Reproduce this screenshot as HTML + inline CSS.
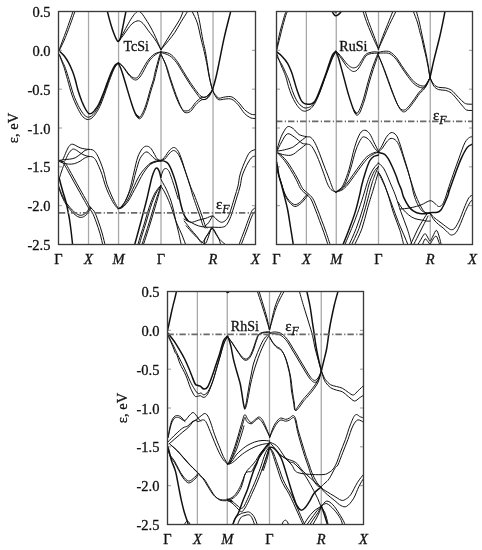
<!DOCTYPE html><html><head><meta charset="utf-8"><style>html,body{margin:0;padding:0;background:#fff;}svg{display:block;filter:blur(0.3px);}text{font-family:"Liberation Serif",serif;fill:#111;stroke:#111;stroke-width:0.3px;}</style></head><body>
<svg width="482" height="550" viewBox="0 0 482 550">
<defs><clipPath id="c0"><rect x="58.5" y="11.5" width="197.0" height="233.0"/></clipPath></defs>
<line x1="88.53" y1="11.5" x2="88.53" y2="244.5" stroke="#a8a8a8" stroke-width="1.3"/>
<line x1="118.56" y1="11.5" x2="118.56" y2="244.5" stroke="#a8a8a8" stroke-width="1.3"/>
<line x1="161.02" y1="11.5" x2="161.02" y2="244.5" stroke="#a8a8a8" stroke-width="1.3"/>
<line x1="213.03" y1="11.5" x2="213.03" y2="244.5" stroke="#a8a8a8" stroke-width="1.3"/>
<text x="50.5" y="17.10" font-size="14.5" text-anchor="end">0.5</text>
<line x1="58.5" y1="50.33" x2="62.0" y2="50.33" stroke="#999" stroke-width="1"/>
<line x1="252.0" y1="50.33" x2="255.5" y2="50.33" stroke="#999" stroke-width="1"/>
<text x="50.5" y="55.93" font-size="14.5" text-anchor="end">0.0</text>
<line x1="58.5" y1="89.17" x2="62.0" y2="89.17" stroke="#999" stroke-width="1"/>
<line x1="252.0" y1="89.17" x2="255.5" y2="89.17" stroke="#999" stroke-width="1"/>
<text x="50.5" y="94.77" font-size="14.5" text-anchor="end">-0.5</text>
<line x1="58.5" y1="128.00" x2="62.0" y2="128.00" stroke="#999" stroke-width="1"/>
<line x1="252.0" y1="128.00" x2="255.5" y2="128.00" stroke="#999" stroke-width="1"/>
<text x="50.5" y="133.60" font-size="14.5" text-anchor="end">-1.0</text>
<line x1="58.5" y1="166.83" x2="62.0" y2="166.83" stroke="#999" stroke-width="1"/>
<line x1="252.0" y1="166.83" x2="255.5" y2="166.83" stroke="#999" stroke-width="1"/>
<text x="50.5" y="172.43" font-size="14.5" text-anchor="end">-1.5</text>
<line x1="58.5" y1="205.67" x2="62.0" y2="205.67" stroke="#999" stroke-width="1"/>
<line x1="252.0" y1="205.67" x2="255.5" y2="205.67" stroke="#999" stroke-width="1"/>
<text x="50.5" y="211.27" font-size="14.5" text-anchor="end">-2.0</text>
<text x="50.5" y="250.10" font-size="14.5" text-anchor="end">-2.5</text>
<g clip-path="url(#c0)" fill="none" stroke="#111" stroke-width="1.15" stroke-linejoin="round" stroke-linecap="round">
<path d="M59.0,50.5 C59.6,48.8 61.5,43.5 62.8,40.0 C64.1,36.5 64.9,34.5 66.6,29.8 C68.3,25.1 71.8,15.0 73.0,11.5 C74.2,8.0 73.7,9.4 73.8,9.0" stroke-width="1.00"/>
<path d="M59.3,50.5 C60.1,48.8 62.8,43.5 64.3,40.0 C65.8,36.5 66.5,34.5 68.3,29.8 C70.1,25.1 73.7,15.0 74.9,11.5 C76.2,8.0 75.7,9.4 75.8,9.0" stroke-width="1.00"/>
<path d="M60.1,51.8 C60.8,52.5 62.9,54.2 64.3,56.0 C65.7,57.8 67.0,59.8 68.4,62.4 C69.8,65.0 71.4,68.5 72.6,71.5 C73.8,74.5 74.6,77.2 75.5,80.5 C76.4,83.8 77.1,87.5 78.2,91.0 C79.3,94.5 80.7,98.4 81.9,101.5 C83.2,104.6 84.6,107.5 85.7,109.5 C86.8,111.5 87.6,112.7 88.6,113.3 C89.6,113.9 90.5,113.8 91.5,113.3 C92.5,112.8 93.3,112.1 94.5,110.6 C95.7,109.0 97.4,106.8 98.9,104.0 C100.4,101.2 101.8,97.2 103.3,93.5 C104.8,89.8 106.1,85.6 107.6,81.8 C109.0,78.0 110.7,73.6 112.0,70.8 C113.3,68.0 114.1,66.2 115.2,64.9 C116.3,63.6 117.9,63.2 118.4,62.9" stroke-width="1.50"/>
<path d="M59.3,54.5 C59.7,55.7 61.0,59.3 61.8,61.6 C62.6,63.9 63.3,65.2 64.3,68.2 C65.2,71.2 66.2,75.0 67.5,79.5 C68.8,84.0 70.4,90.5 72.0,95.0 C73.6,99.5 75.2,103.3 76.9,106.7 C78.6,110.1 80.4,113.6 81.9,115.6 C83.4,117.6 84.6,118.2 85.7,118.9 C86.8,119.6 87.4,119.7 88.4,119.5 C89.4,119.3 90.7,119.0 91.9,118.0 C93.1,117.0 94.3,115.7 95.6,113.8 C96.9,111.9 98.4,109.5 99.8,106.5 C101.2,103.5 102.8,99.3 104.2,95.5 C105.6,91.7 107.0,87.4 108.4,83.5 C109.8,79.6 111.4,75.2 112.6,72.3 C113.8,69.4 114.7,67.5 115.7,66.0 C116.7,64.5 118.0,63.8 118.4,63.4" stroke-width="1.00"/>
<path d="M59.5,55.0 C60.0,56.1 61.6,59.5 62.6,61.8 C63.6,64.0 64.4,65.5 65.5,68.5 C66.6,71.5 67.7,75.2 69.0,79.5 C70.3,83.8 72.0,90.2 73.5,94.5 C75.0,98.8 76.6,102.3 78.2,105.5 C79.8,108.7 81.7,111.7 83.0,113.5 C84.3,115.3 85.3,115.9 86.2,116.5 C87.1,117.1 87.6,117.3 88.5,117.2 C89.4,117.1 90.5,116.8 91.5,116.0 C92.5,115.2 93.5,114.3 94.8,112.6 C96.0,110.9 97.5,108.8 99.0,105.8 C100.5,102.8 102.0,98.6 103.5,94.8 C105.0,91.0 106.3,86.8 107.8,83.0 C109.2,79.2 110.9,74.9 112.2,72.0 C113.5,69.1 114.4,67.2 115.4,65.8 C116.4,64.3 117.9,63.7 118.4,63.3" stroke-width="1.00"/>
<path d="M106.8,5.0 C106.9,6.1 106.7,8.2 107.4,11.4 C108.1,14.6 109.7,20.4 110.8,24.2 C111.9,28.0 113.2,31.7 114.2,34.3 C115.2,36.9 115.9,38.4 116.6,39.6 C117.3,40.8 117.7,41.7 118.3,41.6 C118.9,41.5 119.5,40.8 120.2,38.8 C120.9,36.8 121.6,32.8 122.3,29.5 C123.0,26.2 123.8,22.0 124.4,19.0 C125.0,16.0 125.6,13.6 125.9,11.4 C126.2,9.2 126.4,6.9 126.5,6.0" stroke-width="1.50"/>
<path d="M118.3,41.6 C118.9,40.6 120.5,38.1 122.0,35.5 C123.5,32.9 125.3,29.0 127.0,26.0 C128.7,23.0 130.5,19.7 132.0,17.5 C133.5,15.3 134.9,13.7 136.0,12.6 C137.1,11.5 137.6,11.2 138.4,11.2 C139.2,11.2 140.1,11.7 141.0,12.6 C141.9,13.5 143.0,15.0 144.0,16.5 C145.0,18.0 146.1,19.8 147.2,21.5 C148.3,23.2 149.4,25.0 150.5,27.0 C151.6,29.0 152.7,31.2 153.9,33.6 C155.1,36.0 156.3,38.8 157.5,41.5 C158.7,44.2 160.3,48.3 160.9,49.7" stroke-width="1.00"/>
<path d="M118.3,41.6 C119.1,40.6 121.3,38.0 123.0,35.8 C124.7,33.6 126.6,30.3 128.3,28.2 C130.0,26.1 131.3,24.2 133.0,23.0 C134.7,21.8 136.7,20.7 138.4,20.8 C140.1,20.9 141.3,21.8 143.0,23.5 C144.7,25.2 146.9,28.8 148.5,30.9 C150.1,33.0 151.2,34.2 152.5,36.0 C153.8,37.8 155.2,39.6 156.6,41.9 C158.0,44.2 160.2,48.4 160.9,49.7" stroke-width="1.00"/>
<path d="M118.4,63.1 C118.8,63.2 119.7,63.2 120.7,64.0 C121.7,64.8 123.2,66.6 124.4,68.1 C125.6,69.6 126.8,71.6 128.0,73.1 C129.2,74.5 130.5,76.0 131.7,76.8 C132.8,77.6 133.8,78.1 134.9,78.1 C136.0,78.1 137.0,78.0 138.1,76.8 C139.2,75.6 140.5,72.9 141.7,70.8 C142.9,68.7 144.2,66.4 145.4,64.4 C146.6,62.4 147.8,60.5 149.0,59.0 C150.2,57.5 151.5,56.3 152.7,55.3 C153.9,54.3 155.2,53.5 156.4,53.0 C157.6,52.5 158.9,52.4 159.6,52.1 C160.3,51.9 160.6,51.6 160.8,51.5" stroke-width="1.00"/>
<path d="M118.4,63.1 C118.8,63.3 119.7,63.5 120.7,64.5 C121.7,65.5 123.2,67.2 124.4,68.8 C125.6,70.4 126.8,72.5 128.0,74.0 C129.2,75.5 130.5,77.0 131.7,78.0 C132.9,79.0 134.2,80.0 135.4,80.0 C136.6,80.0 137.8,79.3 139.0,78.1 C140.2,76.9 141.5,74.8 142.7,72.7 C143.9,70.7 145.1,67.9 146.3,65.8 C147.5,63.7 148.8,61.5 150.0,59.9 C151.2,58.3 152.4,57.3 153.6,56.2 C154.8,55.1 156.1,54.2 157.3,53.5 C158.5,52.8 160.2,52.2 160.8,52.0" stroke-width="1.00"/>
<path d="M118.4,63.1 C118.8,63.9 119.9,66.2 120.6,68.0 C121.3,69.8 121.6,70.4 122.7,74.0 C123.8,77.6 125.8,84.3 127.3,89.4 C128.8,94.5 130.7,100.8 132.0,104.8 C133.3,108.8 134.2,111.5 135.4,113.6 C136.6,115.7 138.3,116.6 138.9,117.2" stroke-width="1.50"/>
<path d="M135.4,113.6 C136.0,114.2 137.8,117.3 138.9,117.4 C140.0,117.5 140.8,116.2 142.0,114.1 C143.2,112.0 144.5,108.9 145.9,104.8 C147.3,100.7 149.1,93.6 150.3,89.4 C151.6,85.2 152.6,82.7 153.4,79.8 C154.2,76.9 154.2,75.7 155.1,72.0 C156.0,68.3 158.1,60.8 159.0,57.5 C159.9,54.2 160.5,53.2 160.8,52.3" stroke-width="1.00"/>
<path d="M135.8,115.2 C136.4,115.8 138.0,118.8 139.1,118.9 C140.2,119.0 141.3,117.8 142.6,115.6 C143.8,113.4 145.2,110.3 146.6,106.0 C148.0,101.7 149.9,94.3 151.2,90.0 C152.5,85.7 153.5,82.9 154.3,80.0 C155.1,77.1 155.2,76.2 156.1,72.5 C157.0,68.8 158.8,61.2 159.7,58.0 C160.5,54.8 160.9,53.8 161.2,53.0" stroke-width="1.00"/>
<path d="M160.9,49.7 C162.0,47.9 165.3,42.5 167.4,39.1 C169.5,35.7 171.6,32.5 173.7,29.2 C175.8,25.9 178.3,22.1 179.9,19.2 C181.5,16.3 182.3,13.4 183.0,11.7 C183.7,10.0 183.8,9.4 184.0,9.0" stroke-width="1.00"/>
<path d="M160.9,49.7 C162.2,48.2 166.4,43.3 168.7,40.4 C171.0,37.5 172.8,35.4 174.9,32.3 C177.0,29.2 179.0,25.1 181.1,21.7 C183.2,18.3 186.2,13.8 187.4,11.7 C188.6,9.6 188.3,9.4 188.5,9.0" stroke-width="1.00"/>
<path d="M191.5,8.0 C191.6,8.6 191.3,9.2 192.3,11.7 C193.3,14.2 195.8,18.3 197.3,22.9 C198.8,27.5 199.9,34.3 201.1,39.1 C202.2,43.9 203.2,47.2 204.2,51.6 C205.2,56.0 206.4,61.6 207.2,65.8 C208.0,70.0 208.3,73.0 209.2,77.0 C210.1,81.0 211.4,86.8 212.5,89.9 C213.6,93.0 214.9,94.1 216.0,95.5 C217.1,96.9 217.5,98.0 219.1,98.2 C220.7,98.4 223.3,97.1 225.4,96.9 C227.5,96.7 229.7,96.1 231.8,96.9 C233.9,97.8 236.1,99.9 238.2,102.0 C240.3,104.1 242.4,107.6 244.5,109.6 C246.6,111.6 249.0,113.2 250.9,114.1 C252.8,114.9 255.2,114.6 256.0,114.7" stroke-width="1.00"/>
<path d="M196.5,8.0 C196.6,8.6 196.8,9.2 197.3,11.7 C197.9,14.2 198.9,18.1 199.8,22.9 C200.7,27.7 202.0,35.6 202.9,40.4 C203.8,45.2 204.6,47.3 205.4,51.6 C206.2,55.9 207.0,61.7 207.7,66.0 C208.4,70.3 208.8,73.5 209.6,77.5 C210.4,81.5 211.4,86.7 212.5,89.9 C213.6,93.2 214.9,95.3 216.0,97.0 C217.1,98.7 217.5,99.5 219.1,99.8 C220.7,100.1 223.3,99.1 225.4,99.0 C227.5,98.9 229.7,98.3 231.8,99.3 C233.9,100.3 236.1,102.4 238.2,104.8 C240.3,107.2 242.4,111.2 244.5,113.4 C246.6,115.6 249.0,117.1 250.9,117.9 C252.8,118.8 255.2,118.4 256.0,118.5" stroke-width="1.00"/>
<path d="M231.2,8.0 C231.1,8.6 231.9,6.4 230.7,11.4 C229.5,16.4 226.2,28.7 224.1,38.1 C222.0,47.5 219.4,61.4 218.0,68.0 C216.6,74.7 216.7,74.3 215.8,78.0 C214.9,81.7 213.1,87.9 212.5,89.9" stroke-width="1.50"/>
<path d="M160.8,51.8 C162.3,52.1 167.0,52.3 169.6,53.7 C172.2,55.1 174.2,57.5 176.5,60.4 C178.8,63.3 181.0,67.7 183.3,71.3 C185.6,74.9 187.8,78.8 190.1,82.2 C192.4,85.6 195.1,89.4 196.9,91.7 C198.7,94.0 199.6,95.4 201.0,96.3 C202.4,97.2 203.7,97.5 205.1,97.2 C206.5,97.0 208.0,96.0 209.2,94.8 C210.4,93.6 211.9,90.7 212.5,89.9" stroke-width="1.00"/>
<path d="M160.8,52.5 C162.3,53.0 167.0,54.0 169.6,55.7 C172.2,57.4 174.2,59.6 176.5,62.6 C178.8,65.6 181.0,69.9 183.3,73.5 C185.6,77.1 187.8,81.0 190.1,84.4 C192.4,87.8 195.1,91.5 196.9,93.9 C198.7,96.3 199.6,97.8 201.0,98.7 C202.4,99.6 203.7,99.8 205.1,99.4 C206.5,99.0 208.0,98.0 209.2,96.4 C210.4,94.8 211.9,91.0 212.5,89.9" stroke-width="1.00"/>
<path d="M161.2,54.5 C161.9,56.2 164.1,60.6 165.5,64.5 C166.9,68.4 168.0,73.1 169.6,78.1 C171.2,83.1 173.3,89.7 175.1,94.5 C176.9,99.3 178.9,104.0 180.5,106.7 C182.1,109.4 183.0,110.3 184.6,110.8 C186.2,111.3 188.3,110.9 190.1,109.5 C191.9,108.1 193.7,104.5 195.5,102.6 C197.3,100.7 199.2,98.9 201.0,97.9 C202.8,96.9 204.6,97.8 206.5,96.5 C208.4,95.2 211.5,91.0 212.5,89.9" stroke-width="1.00"/>
<path d="M161.5,55.5 C162.3,57.2 164.8,61.6 166.3,65.5 C167.8,69.4 168.9,74.1 170.6,79.1 C172.3,84.1 174.5,90.7 176.3,95.5 C178.1,100.3 180.1,105.2 181.5,108.0 C182.9,110.8 183.5,111.9 185.0,112.5 C186.5,113.1 188.7,112.7 190.5,111.4 C192.3,110.1 194.1,106.5 195.9,104.6 C197.7,102.7 199.6,101.0 201.4,100.0 C203.2,99.0 205.0,100.2 206.8,98.5 C208.7,96.8 211.6,91.3 212.5,89.9" stroke-width="1.00"/>
<path d="M59.5,160.5 C59.9,160.5 61.2,161.1 62.0,160.5 C62.8,159.9 63.2,158.7 64.0,157.0 C64.8,155.3 65.9,152.2 66.8,150.4 C67.7,148.6 68.4,146.9 69.3,145.9 C70.2,144.9 71.1,144.2 72.2,144.2 C73.3,144.1 74.6,145.0 75.9,145.6 C77.2,146.2 78.7,147.3 80.1,147.8 C81.5,148.3 82.8,148.5 84.2,148.8 C85.6,149.1 87.4,149.2 88.7,149.4 C90.0,149.6 91.1,149.2 92.2,149.7 C93.3,150.2 94.4,150.9 95.5,152.3 C96.6,153.7 97.6,155.7 98.7,158.0 C99.8,160.3 101.0,163.5 102.0,166.2 C103.0,168.9 103.7,171.4 104.5,174.4 C105.3,177.4 105.8,180.9 106.9,184.2 C108.0,187.5 109.7,191.2 110.9,194.1 C112.1,197.0 113.1,199.1 114.3,201.5 C115.5,203.9 117.5,207.2 118.2,208.4" stroke-width="1.00"/>
<path d="M60.0,161.0 C60.5,161.1 62.1,161.6 63.0,161.5 C63.9,161.4 64.2,161.8 65.1,160.5 C66.0,159.2 67.2,155.7 68.4,153.8 C69.7,151.9 71.2,149.8 72.6,149.2 C74.0,148.6 75.3,149.7 76.7,150.4 C78.1,151.1 79.5,152.6 80.9,153.4 C82.3,154.2 83.7,154.9 85.0,155.4 C86.3,155.9 87.5,156.2 88.7,156.4 C89.9,156.6 91.1,156.3 92.2,156.8 C93.3,157.3 94.4,158.0 95.5,159.6 C96.6,161.2 97.6,163.7 98.7,166.2 C99.8,168.7 101.0,171.4 102.0,174.4 C103.0,177.4 103.8,181.1 104.9,184.2 C106.0,187.3 107.1,190.3 108.4,193.2 C109.7,196.1 111.3,199.3 112.6,201.5 C113.8,203.7 115.0,205.3 115.9,206.5 C116.8,207.7 117.8,208.2 118.2,208.6" stroke-width="1.00"/>
<path d="M59.3,160.4 C60.1,160.3 62.6,159.8 64.3,159.6 C66.0,159.4 67.5,159.5 69.3,159.2 C71.1,158.9 73.2,158.8 75.1,157.9 C77.0,157.0 79.2,155.1 80.9,153.8 C82.6,152.6 83.7,151.1 85.0,150.4 C86.3,149.7 88.1,149.6 88.7,149.4" stroke-width="1.00"/>
<path d="M59.5,161.5 C60.0,161.7 61.1,162.5 62.6,162.9 C64.1,163.3 66.5,164.0 68.4,164.1 C70.4,164.2 72.3,164.2 74.3,163.7 C76.2,163.2 78.4,162.1 80.1,161.2 C81.8,160.3 82.8,159.1 84.2,158.3 C85.6,157.5 88.0,156.7 88.7,156.4" stroke-width="1.00"/>
<path d="M61.5,161.5 C62.0,162.0 62.9,162.5 64.2,164.4 C65.5,166.3 67.4,170.0 69.1,173.1 C70.8,176.2 72.7,179.6 74.5,182.9 C76.3,186.2 78.2,189.4 80.0,192.7 C81.8,196.0 84.1,200.0 85.5,202.5 C86.9,205.0 87.3,205.9 88.4,207.6 C89.5,209.3 91.0,210.1 92.3,212.5 C93.6,214.9 94.8,218.3 96.1,221.8 C97.4,225.3 98.8,229.5 100.0,233.5 C101.2,237.5 102.5,243.9 103.0,246.0" stroke-width="1.00"/>
<path d="M63.6,161.5 C64.0,162.0 65.0,162.6 66.3,164.6 C67.6,166.6 69.5,170.2 71.2,173.3 C72.9,176.4 74.8,179.8 76.6,183.1 C78.4,186.4 80.3,189.6 82.1,192.9 C83.9,196.2 86.3,200.3 87.6,202.7 C88.9,205.0 88.9,205.5 90.0,207.0 C91.1,208.5 92.9,209.2 94.3,211.5 C95.7,213.8 96.9,217.4 98.2,221.0 C99.5,224.6 100.9,228.8 102.1,233.0 C103.3,237.2 104.8,243.8 105.3,246.0" stroke-width="1.00"/>
<path d="M64.2,164.4 C63.8,165.3 62.8,167.7 62.0,170.0 C61.2,172.3 59.8,177.1 59.3,178.5" stroke-width="1.00"/>
<path d="M59.3,178.5 C59.8,180.5 61.4,186.7 62.5,190.5 C63.6,194.3 64.9,198.0 65.8,201.5 C66.7,205.0 67.4,208.2 68.0,211.3 C68.6,214.4 69.1,216.6 69.6,220.0 C70.1,223.4 70.7,227.7 71.2,232.0 C71.7,236.3 72.5,243.7 72.7,246.0" stroke-width="1.50"/>
<path d="M58.7,186.2 C59.3,187.8 61.1,193.1 62.5,196.0 C63.9,198.9 65.2,201.2 66.9,203.6 C68.6,206.0 70.6,208.4 72.4,210.2 C74.2,212.0 76.2,213.7 77.8,214.5 C79.4,215.3 80.8,215.4 82.2,215.1 C83.7,214.8 85.4,213.4 86.5,212.4 C87.6,211.4 88.1,209.9 88.7,209.0 C89.3,208.1 89.8,207.3 90.0,207.0" stroke-width="1.00"/>
<path d="M58.7,187.5 C59.3,189.1 61.0,194.4 62.3,197.3 C63.6,200.2 65.0,202.8 66.7,205.2 C68.4,207.6 70.4,210.1 72.2,212.0 C74.0,213.9 76.1,215.7 77.8,216.6 C79.5,217.5 80.9,217.6 82.4,217.2 C83.9,216.8 85.7,215.4 86.8,214.3 C87.9,213.2 88.6,211.6 89.3,210.5 C90.0,209.4 90.7,208.4 91.0,208.0" stroke-width="1.00"/>
<path d="M118.2,208.6 C118.7,208.3 119.9,208.2 121.0,207.0 C122.1,205.8 123.8,203.8 125.0,201.5 C126.2,199.2 127.5,196.2 128.5,193.5 C129.5,190.8 130.1,188.6 131.0,185.0 C131.9,181.4 132.9,176.7 134.0,172.0 C135.1,167.3 136.4,160.9 137.8,157.0 C139.2,153.1 141.0,150.3 142.4,148.5 C143.8,146.7 145.1,146.3 146.4,146.2 C147.7,146.1 149.2,146.7 150.4,147.8 C151.6,148.9 152.7,151.2 153.8,153.0 C154.9,154.8 156.0,157.5 157.2,158.8 C158.4,160.1 160.2,160.5 160.8,160.8" stroke-width="1.00"/>
<path d="M118.2,208.6 C118.8,208.2 120.2,207.9 121.5,206.5 C122.8,205.1 124.7,202.4 126.0,200.0 C127.3,197.6 128.4,194.5 129.5,192.0 C130.6,189.5 131.4,188.3 132.5,185.0 C133.6,181.7 134.5,176.4 135.8,172.0 C137.1,167.6 138.4,161.8 140.1,158.5 C141.8,155.2 144.1,152.7 145.8,152.0 C147.5,151.3 148.9,153.3 150.4,154.5 C151.9,155.7 153.2,157.9 154.9,159.0 C156.6,160.1 159.8,160.5 160.8,160.8" stroke-width="1.00"/>
<path d="M118.2,208.6 C118.8,208.3 120.5,208.3 122.0,207.0 C123.5,205.7 125.5,203.3 127.0,201.0 C128.5,198.7 129.8,195.6 131.0,193.0 C132.2,190.4 133.5,187.7 134.5,185.5 C135.5,183.3 135.9,182.1 137.0,180.0 C138.1,177.9 139.5,175.2 141.2,172.9 C142.9,170.6 145.1,167.9 147.0,166.1 C148.9,164.3 151.0,163.0 152.7,162.1 C154.4,161.2 155.8,161.1 157.2,160.9 C158.5,160.7 160.2,160.8 160.8,160.8" stroke-width="1.00"/>
<path d="M118.2,208.6 C118.9,208.4 120.9,208.7 122.5,207.5 C124.1,206.3 126.3,203.8 128.0,201.5 C129.7,199.2 131.1,196.1 132.5,193.5 C133.9,190.9 135.3,188.2 136.5,186.0 C137.7,183.8 138.3,182.2 139.5,180.0 C140.7,177.8 141.9,175.3 143.5,172.9 C145.1,170.5 147.3,167.3 149.2,165.5 C151.1,163.7 153.0,162.9 154.9,162.1 C156.8,161.3 159.8,161.0 160.8,160.8" stroke-width="1.00"/>
<path d="M134.3,246.0 C135.4,242.1 138.7,229.9 140.7,222.5 C142.7,215.1 144.7,207.6 146.2,201.8 C147.7,196.0 148.5,191.6 149.5,187.5 C150.5,183.4 151.1,180.0 152.0,177.0 C152.9,174.0 154.1,171.0 154.9,169.5 C155.7,168.0 156.3,167.7 157.0,168.0 C157.7,168.3 158.7,169.9 159.3,171.5 C159.9,173.1 160.6,176.4 160.8,177.4" stroke-width="1.50"/>
<path d="M137.5,246.0 C138.1,244.0 139.8,237.8 141.0,234.0 C142.2,230.2 143.4,226.5 144.5,223.0 C145.6,219.5 146.3,216.5 147.4,213.0 C148.5,209.5 149.7,205.3 151.0,202.0 C152.3,198.7 153.8,195.2 155.0,193.0 C156.2,190.8 157.0,189.8 158.0,188.5 C159.0,187.2 160.3,186.0 160.8,185.5" stroke-width="1.00"/>
<path d="M138.9,246.0 C139.5,244.0 141.2,237.8 142.4,234.0 C143.6,230.2 144.8,226.5 145.9,223.0 C147.0,219.5 147.8,216.4 148.8,213.0 C149.9,209.6 151.0,205.8 152.2,202.5 C153.4,199.2 154.8,195.8 155.9,193.5 C157.0,191.2 157.8,190.3 158.6,189.0 C159.4,187.7 160.4,186.1 160.8,185.5" stroke-width="1.00"/>
<path d="M141.5,246.0 C142.2,244.0 144.2,237.8 145.5,234.0 C146.8,230.2 147.9,226.5 149.0,223.0 C150.1,219.5 151.0,216.3 152.0,213.0 C153.0,209.7 154.0,206.1 155.0,203.0 C156.0,199.9 157.1,196.7 157.8,194.5 C158.6,192.3 159.0,191.5 159.5,190.0 C160.0,188.5 160.6,186.2 160.8,185.5" stroke-width="1.00"/>
<path d="M142.9,246.0 C143.6,244.0 145.7,237.8 146.9,234.0 C148.2,230.2 149.3,226.5 150.4,223.0 C151.5,219.5 152.4,216.2 153.4,213.0 C154.4,209.8 155.3,206.5 156.2,203.5 C157.1,200.5 158.0,197.2 158.6,195.0 C159.2,192.8 159.6,192.1 160.0,190.5 C160.4,188.9 160.7,186.3 160.8,185.5" stroke-width="1.00"/>
<path d="M160.8,160.5 C161.4,160.0 163.4,158.7 164.4,157.5 C165.4,156.3 166.2,154.8 167.1,153.5 C168.0,152.2 168.7,151.0 169.8,150.0 C170.9,149.0 172.3,147.6 173.5,147.5 C174.7,147.4 176.0,148.3 177.1,149.5 C178.2,150.7 178.9,152.4 179.8,154.5 C180.7,156.6 181.6,159.2 182.5,162.0 C183.4,164.8 184.4,168.1 185.3,171.0 C186.2,173.9 187.1,176.8 188.0,179.5 C188.9,182.2 189.7,184.9 190.5,187.5 C191.3,190.1 191.6,191.8 192.6,195.0 C193.6,198.2 195.2,202.8 196.5,206.5 C197.8,210.2 199.1,213.8 200.2,217.0 C201.3,220.2 202.2,223.7 203.0,225.5 C203.8,227.3 204.7,227.6 205.0,228.0" stroke-width="1.00"/>
<path d="M160.8,160.5 C161.5,160.2 163.7,159.8 164.8,159.0 C165.9,158.2 166.7,156.6 167.6,155.5 C168.5,154.4 169.3,153.3 170.3,152.5 C171.3,151.7 172.4,150.5 173.5,150.5 C174.6,150.5 175.9,151.3 177.0,152.5 C178.1,153.7 179.0,155.4 180.0,157.5 C181.0,159.6 182.0,162.3 183.0,165.0 C184.0,167.7 185.0,170.8 186.0,173.5 C187.0,176.2 187.9,178.9 188.8,181.5 C189.7,184.1 190.6,186.8 191.5,189.0 C192.4,191.2 193.1,192.0 194.3,195.0 C195.5,198.0 197.4,203.3 198.8,207.0 C200.2,210.7 201.4,214.2 202.5,217.4 C203.6,220.6 204.6,224.2 205.3,226.0 C206.1,227.8 206.7,227.7 207.0,228.0" stroke-width="1.00"/>
<path d="M158.0,160.5 C158.5,160.5 159.9,160.5 160.8,160.6 C161.7,160.7 162.4,160.6 163.5,160.9 C164.6,161.2 166.0,161.8 167.1,162.7 C168.2,163.6 168.9,164.7 169.8,166.4 C170.7,168.1 171.6,170.3 172.5,172.7 C173.4,175.1 174.4,177.9 175.3,180.9 C176.2,183.9 177.2,187.7 178.0,190.9 C178.8,194.1 179.2,197.3 179.8,200.0 C180.4,202.7 180.9,204.8 181.5,207.0 C182.1,209.2 182.7,211.4 183.4,213.2 C184.1,214.9 184.8,216.4 185.5,217.5 C186.2,218.6 187.2,219.6 187.5,220.0" stroke-width="1.50"/>
<path d="M185.5,217.5 C185.8,217.9 186.0,218.8 187.1,219.7 C188.2,220.6 189.9,221.8 191.8,222.8 C193.7,223.8 196.0,225.1 198.3,225.8 C200.6,226.5 203.5,227.0 205.8,227.2 C208.1,227.4 210.6,227.2 212.3,227.2 C214.0,227.2 214.5,227.3 216.0,227.3 C217.5,227.3 219.8,227.6 221.5,227.3 C223.2,227.0 224.5,227.0 225.9,225.6 C227.3,224.2 228.5,221.9 229.8,219.0 C231.1,216.1 232.4,211.7 233.6,208.0 C234.8,204.3 235.8,200.7 236.9,197.0 C238.0,193.3 239.3,189.7 240.2,186.0 C241.1,182.3 241.1,178.9 242.4,175.1 C243.7,171.3 246.2,166.0 247.9,163.0 C249.6,160.0 251.0,158.1 252.3,157.0 C253.7,155.9 255.4,156.3 256.0,156.2" stroke-width="1.00"/>
<path d="M160.8,177.4 C161.1,176.5 161.9,173.4 162.5,172.0 C163.1,170.6 163.4,169.7 164.1,169.1 C164.8,168.5 165.8,168.3 166.6,168.7 C167.4,169.1 168.3,170.0 169.1,171.6 C169.9,173.2 170.6,175.4 171.6,178.2 C172.6,181.0 173.8,184.7 174.9,188.2 C176.0,191.7 177.6,197.2 178.2,199.0" stroke-width="1.00"/>
<path d="M184.0,219.0 C185.2,219.6 188.5,222.1 190.9,222.3 C193.3,222.5 195.8,220.9 198.3,220.2 C200.8,219.5 203.4,219.0 205.8,218.3 C208.2,217.6 210.6,215.8 212.5,216.0 C214.4,216.2 215.5,218.8 217.0,219.8 C218.5,220.9 220.0,222.2 221.5,222.3 C223.0,222.4 224.7,221.2 225.9,220.1 C227.1,219.0 227.8,217.7 228.7,215.7 C229.6,213.7 230.4,211.1 231.4,208.0 C232.4,204.9 233.6,200.7 234.7,197.0 C235.8,193.3 237.1,189.8 238.0,186.0 C238.9,182.2 238.9,178.4 240.2,174.0 C241.5,169.6 244.0,163.4 245.7,159.7 C247.3,156.0 248.4,153.7 250.1,152.0 C251.8,150.3 255.0,149.8 256.0,149.3" stroke-width="1.00"/>
<path d="M184.3,221.1 C185.6,222.7 189.6,227.8 191.8,230.5 C194.0,233.2 195.9,235.0 197.4,237.0 C198.9,239.0 200.2,241.8 201.1,242.6 C202.0,243.4 201.9,243.1 203.0,241.7 C204.1,240.3 206.3,236.5 207.7,234.2 C209.1,231.9 210.8,228.8 211.4,227.7" stroke-width="1.00"/>
<path d="M186.2,225.8 C187.4,227.2 191.5,231.9 193.7,234.2 C195.9,236.5 197.4,238.2 199.3,239.8 C201.2,241.4 203.5,243.8 204.9,243.6 C206.3,243.4 206.8,241.1 207.7,238.9 C208.6,236.7 209.7,232.4 210.5,230.5 C211.3,228.6 212.2,227.8 212.5,227.2" stroke-width="1.00"/>
<path d="M204.0,246.0 C204.2,244.8 204.2,241.2 205.0,239.0 C205.8,236.8 207.8,234.8 209.0,233.0 C210.2,231.2 211.3,228.3 212.5,228.4 C213.7,228.5 214.9,231.4 216.0,233.3 C217.1,235.2 218.5,237.8 219.3,239.9 C220.1,242.0 220.7,245.0 221.0,246.0" stroke-width="1.00"/>
<path d="M212.5,228.4 C213.4,229.9 216.5,235.4 218.2,237.7 C219.9,240.0 221.1,240.7 222.6,242.1 C224.1,243.5 226.3,245.3 227.0,246.0" stroke-width="1.00"/>
<path d="M204.9,225.8 C205.3,225.5 206.7,224.9 207.5,224.0 C208.3,223.1 209.2,221.8 210.0,220.5 C210.8,219.2 212.1,216.8 212.5,216.0" stroke-width="1.00"/>
<path d="M160.8,179.0 C161.2,179.8 162.5,182.2 163.5,184.0 C164.5,185.8 165.4,187.2 166.6,189.9 C167.8,192.6 169.5,196.7 170.7,200.0 C171.8,203.3 172.7,206.7 173.5,210.0 C174.3,213.3 174.7,216.3 175.5,220.0 C176.3,223.7 177.5,227.7 178.5,232.0 C179.5,236.3 181.0,243.7 181.5,246.0" stroke-width="1.00"/>
<path d="M160.8,186.0 C161.3,186.8 162.9,189.0 164.0,191.0 C165.1,193.0 166.2,195.2 167.5,198.0 C168.8,200.8 170.3,204.8 171.5,208.0 C172.7,211.2 173.5,214.2 174.5,217.0 C175.5,219.8 176.2,222.0 177.5,225.0 C178.8,228.0 180.6,231.5 182.0,235.0 C183.4,238.5 185.5,244.2 186.2,246.0" stroke-width="1.00"/>
<path d="M150.0,163.3 C150.8,163.1 153.2,162.4 155.0,162.0 C156.8,161.6 159.8,160.8 160.8,160.6" stroke-width="1.00"/>
<path d="M238.5,246.0 C239.5,243.3 242.8,234.7 244.6,230.0 C246.3,225.3 247.7,221.2 249.0,217.9 C250.3,214.6 251.1,211.9 252.3,210.2 C253.5,208.5 255.4,207.9 256.0,207.5" stroke-width="1.00"/>
<path d="M240.7,246.0 C241.7,243.3 245.1,234.7 246.8,230.0 C248.6,225.3 250.0,220.8 251.2,217.9 C252.4,215.0 253.2,213.5 254.0,212.4 C254.8,211.3 255.7,211.5 256.0,211.3" stroke-width="1.00"/>
</g>
<line x1="58.5" y1="212.8" x2="255.5" y2="212.8" stroke="#6a6a6a" stroke-width="1.8" stroke-dasharray="6.4 2.4 1.2 2.0" stroke-dashoffset="11.6"/>
<rect x="58.5" y="11.5" width="197.0" height="233.0" fill="none" stroke="#3a3a3a" stroke-width="1.35"/>
<text x="58.50" y="264.1" font-size="14.5" text-anchor="middle">Γ</text>
<text x="88.53" y="264.1" font-size="14.5" text-anchor="middle" font-style="italic">X</text>
<text x="118.56" y="264.1" font-size="14.5" text-anchor="middle" font-style="italic">M</text>
<text x="161.02" y="264.1" font-size="14.5" text-anchor="middle">Γ</text>
<text x="213.03" y="264.1" font-size="14.5" text-anchor="middle" font-style="italic">R</text>
<text x="255.50" y="264.1" font-size="14.5" text-anchor="middle" font-style="italic">X</text>
<text x="123.5" y="50.5" font-size="14">TcSi</text>
<text x="216.0" y="208.7" font-size="15">ε<tspan font-style="italic" font-size="12" dy="4">F</tspan></text>
<text x="0" y="0" font-size="14.5" text-anchor="middle" transform="translate(17.9,128.0) rotate(-90)">ε, eV</text>
<defs><clipPath id="c1"><rect x="276.5" y="11.5" width="196.0" height="233.0"/></clipPath></defs>
<line x1="306.38" y1="11.5" x2="306.38" y2="244.5" stroke="#a8a8a8" stroke-width="1.3"/>
<line x1="336.25" y1="11.5" x2="336.25" y2="244.5" stroke="#a8a8a8" stroke-width="1.3"/>
<line x1="378.50" y1="11.5" x2="378.50" y2="244.5" stroke="#a8a8a8" stroke-width="1.3"/>
<line x1="430.25" y1="11.5" x2="430.25" y2="244.5" stroke="#a8a8a8" stroke-width="1.3"/>
<line x1="276.5" y1="50.33" x2="280.0" y2="50.33" stroke="#999" stroke-width="1"/>
<line x1="469.0" y1="50.33" x2="472.5" y2="50.33" stroke="#999" stroke-width="1"/>
<line x1="276.5" y1="89.17" x2="280.0" y2="89.17" stroke="#999" stroke-width="1"/>
<line x1="469.0" y1="89.17" x2="472.5" y2="89.17" stroke="#999" stroke-width="1"/>
<line x1="276.5" y1="128.00" x2="280.0" y2="128.00" stroke="#999" stroke-width="1"/>
<line x1="469.0" y1="128.00" x2="472.5" y2="128.00" stroke="#999" stroke-width="1"/>
<line x1="276.5" y1="166.83" x2="280.0" y2="166.83" stroke="#999" stroke-width="1"/>
<line x1="469.0" y1="166.83" x2="472.5" y2="166.83" stroke="#999" stroke-width="1"/>
<line x1="276.5" y1="205.67" x2="280.0" y2="205.67" stroke="#999" stroke-width="1"/>
<line x1="469.0" y1="205.67" x2="472.5" y2="205.67" stroke="#999" stroke-width="1"/>
<g clip-path="url(#c1)" fill="none" stroke="#111" stroke-width="1.15" stroke-linejoin="round" stroke-linecap="round">
<path d="M276.6,49.5 C277.0,47.4 278.0,41.1 278.8,37.1 C279.6,33.1 280.7,29.1 281.7,25.5 C282.7,21.9 283.9,17.6 284.6,15.3 C285.3,13.0 285.8,12.7 286.1,11.6 C286.4,10.5 286.5,9.4 286.6,9.0" stroke-width="1.00"/>
<path d="M276.8,49.8 C277.3,47.7 279.0,41.1 280.0,37.1 C281.0,33.1 281.9,29.1 282.9,25.5 C283.9,21.9 285.1,17.6 285.8,15.3 C286.5,13.0 287.0,12.7 287.3,11.6 C287.6,10.5 287.7,9.4 287.8,9.0" stroke-width="1.00"/>
<path d="M276.6,51.7 C277.5,52.4 279.9,54.1 281.7,56.0 C283.5,57.9 286.0,60.6 287.6,63.3 C289.2,66.0 290.4,69.2 291.5,72.0 C292.6,74.8 293.1,77.0 294.0,80.0 C294.9,83.0 295.9,86.8 297.0,90.0 C298.1,93.2 299.6,97.3 300.7,99.5 C301.8,101.7 302.6,102.2 303.6,103.0 C304.6,103.8 305.3,103.8 306.5,104.0 C307.7,104.2 309.6,104.4 310.9,104.0 C312.2,103.6 313.3,103.4 314.5,101.8 C315.7,100.2 316.8,97.7 318.1,94.5 C319.4,91.3 321.1,86.7 322.5,82.9 C323.9,79.2 325.1,76.2 326.5,72.0 C327.9,67.8 330.0,61.1 331.2,58.0 C332.4,54.9 332.8,54.6 333.5,53.5 C334.2,52.4 335.3,51.8 335.7,51.4" stroke-width="1.50"/>
<path d="M276.6,53.1 C277.2,54.8 279.0,59.9 280.3,63.3 C281.6,66.7 283.5,70.7 284.6,73.5 C285.7,76.3 286.2,77.8 286.8,80.0 C287.4,82.2 287.7,84.1 288.5,86.6 C289.3,89.1 290.3,92.2 291.5,95.0 C292.7,97.8 294.3,101.1 295.8,103.5 C297.3,105.9 299.1,108.0 300.5,109.3 C301.9,110.6 303.2,111.0 304.3,111.2 C305.4,111.4 306.1,111.0 307.2,110.5 C308.3,110.0 309.6,109.8 310.9,108.5 C312.2,107.2 313.8,105.4 315.2,102.8 C316.6,100.2 318.2,96.6 319.6,92.8 C321.1,89.0 322.6,83.8 323.9,80.0 C325.2,76.2 326.3,73.3 327.5,70.0 C328.7,66.7 329.8,63.1 331.2,60.0 C332.6,56.9 334.9,53.0 335.7,51.6" stroke-width="1.00"/>
<path d="M276.8,56.5 C277.7,57.9 280.4,62.0 282.0,65.0 C283.6,68.0 285.3,71.9 286.5,74.5 C287.7,77.1 288.2,78.5 289.0,80.5 C289.8,82.5 290.2,84.2 291.0,86.6 C291.8,89.0 292.8,92.3 294.0,95.0 C295.2,97.7 296.7,100.6 298.0,102.5 C299.3,104.4 300.8,105.6 302.0,106.5 C303.2,107.4 304.0,107.8 305.0,108.0 C306.0,108.2 306.7,107.9 307.8,107.6 C308.9,107.3 310.2,107.2 311.5,106.0 C312.8,104.8 314.3,102.8 315.8,100.3 C317.3,97.8 318.8,94.5 320.3,91.0 C321.8,87.5 323.4,82.7 324.7,79.0 C326.0,75.3 327.2,72.3 328.4,69.0 C329.6,65.7 330.8,62.2 332.0,59.3 C333.2,56.4 335.1,53.0 335.7,51.8" stroke-width="1.00"/>
<path d="M331.3,8.0 C331.5,8.6 331.9,10.4 332.3,11.5 C332.8,12.6 333.4,13.8 334.0,14.5 C334.6,15.2 335.0,15.8 335.7,15.8 C336.4,15.9 337.2,15.4 338.0,14.8 C338.8,14.2 339.7,13.5 340.5,12.5 C341.3,11.5 342.2,9.6 342.6,9.0" stroke-width="1.50"/>
<path d="M333.8,9.0 C334.1,9.7 335.0,13.0 335.7,13.0 C336.4,13.0 337.4,9.7 337.8,9.0" stroke-width="1.00"/>
<path d="M335.7,51.5 C335.9,51.5 335.9,50.9 336.9,51.8 C337.9,52.7 340.0,55.1 341.5,56.9 C343.0,58.7 344.5,61.1 346.0,62.8 C347.5,64.5 349.2,66.1 350.6,66.9 C352.0,67.7 353.1,68.0 354.3,67.8 C355.5,67.6 356.7,67.2 357.9,66.0 C359.1,64.8 360.4,62.3 361.6,60.5 C362.8,58.7 364.0,56.3 365.2,55.0 C366.4,53.7 367.4,53.3 368.9,52.8 C370.4,52.3 372.8,51.9 374.4,51.8 C376.0,51.7 377.8,52.2 378.5,52.3" stroke-width="1.00"/>
<path d="M335.7,51.5 C335.9,51.6 335.9,51.1 336.9,52.3 C337.9,53.5 340.0,56.5 341.5,58.7 C343.0,60.9 344.5,63.6 346.0,65.5 C347.5,67.4 349.2,69.1 350.6,70.1 C352.0,71.1 353.1,71.7 354.3,71.5 C355.5,71.3 356.7,70.6 357.9,69.2 C359.1,67.8 360.4,65.3 361.6,63.3 C362.8,61.2 364.0,58.4 365.2,56.9 C366.4,55.4 367.4,54.7 368.9,54.1 C370.4,53.5 372.8,53.4 374.4,53.2 C376.0,53.1 377.8,53.2 378.5,53.2" stroke-width="1.00"/>
<path d="M335.7,51.5 C336.1,52.3 337.2,54.4 338.0,56.5 C338.8,58.6 339.1,60.0 340.2,63.9 C341.3,67.8 343.1,74.6 344.5,79.9 C345.9,85.2 347.4,91.1 348.9,95.9 C350.4,100.8 352.1,106.1 353.3,109.0 C354.5,111.9 355.7,112.7 356.2,113.4" stroke-width="1.50"/>
<path d="M353.3,109.0 C353.8,109.7 355.2,113.2 356.2,113.4 C357.2,113.7 357.9,112.9 359.1,110.5 C360.3,108.1 362.1,103.4 363.5,98.8 C364.9,94.2 366.4,87.9 367.8,82.8 C369.2,77.7 370.7,72.7 372.2,68.3 C373.7,63.9 375.6,59.3 376.6,56.6 C377.7,53.9 378.2,53.0 378.5,52.3" stroke-width="1.00"/>
<path d="M353.8,111.0 C354.3,111.7 355.6,115.0 356.6,115.2 C357.6,115.4 358.7,114.7 360.0,112.2 C361.3,109.7 363.0,104.7 364.5,100.0 C366.0,95.3 367.4,89.1 368.8,84.0 C370.2,78.9 371.8,73.9 373.2,69.5 C374.6,65.1 376.4,60.2 377.3,57.5 C378.2,54.8 378.5,53.8 378.7,53.0" stroke-width="1.00"/>
<path d="M362.8,8.0 C362.9,8.6 362.5,9.1 363.1,11.4 C363.7,13.7 365.2,18.1 366.5,21.7 C367.8,25.3 369.6,29.5 371.1,33.1 C372.6,36.7 374.4,40.7 375.6,43.4 C376.8,46.1 378.0,48.1 378.5,49.1" stroke-width="1.00"/>
<path d="M365.0,8.0 C365.1,8.6 364.7,9.1 365.3,11.4 C365.9,13.7 367.3,18.1 368.6,21.7 C369.9,25.3 371.6,29.6 372.9,33.1 C374.2,36.6 375.7,40.3 376.6,43.0 C377.5,45.7 378.2,48.1 378.5,49.1" stroke-width="1.00"/>
<path d="M378.4,49.1 C379.1,47.0 381.1,40.8 382.7,36.6 C384.2,32.5 386.0,28.4 387.7,24.2 C389.4,20.0 391.7,14.2 392.7,11.7 C393.7,9.2 393.6,9.4 393.8,9.0" stroke-width="1.00"/>
<path d="M378.4,49.1 C379.3,47.0 382.1,40.8 384.0,36.6 C385.9,32.5 387.6,28.4 389.6,24.2 C391.6,20.0 394.6,14.2 395.8,11.7 C397.0,9.2 396.7,9.4 396.9,9.0" stroke-width="1.00"/>
<path d="M413.2,8.0 C413.2,8.6 412.8,9.4 413.5,11.7 C414.2,14.0 416.2,18.5 417.3,22.0 C418.4,25.5 419.3,30.0 420.1,32.9 C420.9,35.8 421.4,36.9 422.0,39.4 C422.6,41.9 423.2,45.4 423.8,47.8 C424.4,50.2 424.8,51.5 425.4,54.0 C426.0,56.5 426.8,60.3 427.3,63.0 C427.9,65.7 428.2,67.6 428.7,70.0 C429.2,72.4 429.2,75.0 430.1,77.4 C431.0,79.8 432.5,82.8 433.9,84.4 C435.3,86.1 436.7,86.7 438.6,87.3 C440.6,87.9 443.5,87.4 445.6,87.9 C447.7,88.4 449.5,88.9 451.4,90.2 C453.3,91.5 455.3,94.1 457.2,96.0 C459.1,97.9 461.4,100.5 463.0,101.8 C464.6,103.1 464.8,103.5 466.5,103.9 C468.2,104.3 471.9,104.2 473.0,104.2" stroke-width="1.00"/>
<path d="M416.3,8.0 C416.3,8.6 416.0,9.4 416.5,11.7 C417.0,14.0 418.4,18.4 419.3,22.0 C420.2,25.6 420.8,29.2 421.6,33.0 C422.4,36.8 423.4,41.3 424.2,45.0 C425.0,48.7 425.6,51.5 426.3,55.0 C427.0,58.5 427.7,62.3 428.3,66.0 C428.9,69.7 429.2,74.1 430.1,77.4 C431.0,80.8 432.5,84.1 433.9,86.1 C435.3,88.1 436.7,88.9 438.6,89.6 C440.6,90.3 443.5,89.8 445.6,90.4 C447.7,91.0 449.5,91.6 451.4,93.1 C453.3,94.6 455.3,97.3 457.2,99.5 C459.1,101.7 461.4,104.8 463.0,106.5 C464.6,108.2 464.8,109.3 466.5,110.0 C468.2,110.7 471.9,110.4 473.0,110.5" stroke-width="1.00"/>
<path d="M445.4,8.0 C445.3,8.6 445.9,6.7 445.0,11.4 C444.1,16.1 441.7,28.2 439.9,36.0 C438.1,43.8 435.6,53.1 434.3,58.4 C433.0,63.7 432.8,64.8 432.1,68.0 C431.4,71.2 430.4,75.8 430.1,77.4" stroke-width="1.50"/>
<path d="M378.3,52.5 C379.2,52.3 381.7,51.4 383.6,51.3 C385.6,51.2 387.9,50.8 390.0,51.9 C392.1,53.0 394.5,55.4 396.4,57.6 C398.3,59.8 399.6,62.5 401.5,65.3 C403.4,68.1 405.7,71.5 407.8,74.2 C409.9,77.0 412.1,79.9 414.2,81.8 C416.3,83.7 418.7,85.2 420.6,85.7 C422.5,86.2 424.1,86.4 425.7,85.0 C427.3,83.6 429.4,78.7 430.1,77.4" stroke-width="1.00"/>
<path d="M378.3,53.3 C379.2,53.2 381.7,52.9 383.6,53.0 C385.6,53.1 387.9,52.7 390.0,53.8 C392.1,54.9 394.5,57.4 396.4,59.6 C398.3,61.9 399.6,64.5 401.5,67.3 C403.4,70.1 405.7,73.6 407.8,76.4 C409.9,79.2 412.1,82.1 414.2,84.0 C416.3,85.9 418.7,87.1 420.6,87.6 C422.5,88.1 424.1,88.5 425.7,86.8 C427.3,85.1 429.4,79.0 430.1,77.4" stroke-width="1.00"/>
<path d="M378.3,55.1 C379.0,56.8 380.9,61.3 382.4,65.3 C383.9,69.3 385.8,74.6 387.5,79.3 C389.2,84.0 390.9,89.0 392.6,93.3 C394.3,97.5 396.1,102.0 397.7,104.8 C399.3,107.6 400.6,109.3 402.1,109.9 C403.6,110.5 404.8,110.1 406.6,108.6 C408.4,107.1 410.8,103.8 412.9,101.0 C415.0,98.2 417.4,94.3 419.3,92.0 C421.2,89.7 422.6,89.3 424.4,86.9 C426.2,84.5 429.2,79.0 430.1,77.4" stroke-width="1.00"/>
<path d="M378.6,56.0 C379.4,57.8 381.6,62.4 383.2,66.5 C384.8,70.6 386.7,75.8 388.4,80.5 C390.1,85.2 391.8,90.2 393.5,94.5 C395.2,98.8 396.9,103.5 398.4,106.3 C399.9,109.1 401.1,110.9 402.5,111.6 C403.9,112.3 405.2,111.8 407.0,110.3 C408.8,108.8 411.2,105.4 413.3,102.6 C415.4,99.8 417.7,96.0 419.6,93.6 C421.5,91.2 422.9,91.0 424.7,88.3 C426.4,85.6 429.2,79.2 430.1,77.4" stroke-width="1.00"/>
<path d="M276.6,151.2 C277.2,149.1 279.0,142.4 280.3,138.9 C281.6,135.4 283.3,132.3 284.6,130.2 C285.9,128.1 286.8,126.8 288.2,126.5 C289.6,126.2 291.5,127.4 293.3,128.7 C295.1,130.0 296.9,133.2 299.1,134.5 C301.3,135.8 304.4,136.2 306.4,136.7 C308.3,137.2 309.4,136.3 310.8,137.4 C312.2,138.5 313.7,140.5 315.1,143.2 C316.6,145.9 318.1,149.8 319.5,153.4 C320.9,157.0 322.2,160.9 323.8,165.0 C325.4,169.1 327.6,174.6 328.9,178.1 C330.2,181.6 331.0,183.9 331.8,186.0 C332.6,188.1 333.1,189.5 333.8,190.5 C334.5,191.5 335.6,191.9 336.0,192.2" stroke-width="1.00"/>
<path d="M276.6,152.0 C277.5,150.3 279.9,144.8 281.7,141.8 C283.5,138.8 285.3,134.5 287.5,133.8 C289.7,133.1 292.4,135.8 294.8,137.4 C297.2,139.0 300.1,142.1 302.0,143.2 C303.9,144.3 304.9,143.6 306.4,144.0 C307.9,144.4 309.4,144.1 310.8,145.4 C312.2,146.7 313.7,149.2 315.1,152.0 C316.6,154.8 318.1,158.5 319.5,162.1 C320.9,165.7 322.5,170.1 323.8,173.7 C325.1,177.3 326.3,181.3 327.5,183.9 C328.7,186.5 329.6,188.1 331.0,189.5 C332.4,190.9 335.2,191.8 336.0,192.2" stroke-width="1.00"/>
<path d="M276.6,151.2 C277.9,151.0 281.8,150.5 284.6,149.8 C287.4,149.1 290.6,148.4 293.3,146.9 C296.0,145.4 298.4,142.8 300.6,141.1 C302.8,139.4 305.4,137.4 306.4,136.7" stroke-width="1.00"/>
<path d="M276.6,152.7 C277.9,153.1 282.1,154.5 284.6,154.9 C287.2,155.3 289.5,155.8 291.9,154.9 C294.3,154.1 296.7,151.6 299.1,149.8 C301.5,148.0 305.2,145.0 306.4,144.0" stroke-width="1.00"/>
<path d="M277.4,152.7 C278.6,154.0 282.4,157.9 284.6,160.7 C286.8,163.5 288.5,166.3 290.4,169.4 C292.3,172.5 294.5,176.3 296.2,179.5 C297.9,182.7 298.9,186.2 300.6,188.7 C302.3,191.2 304.7,192.8 306.4,194.5 C308.1,196.2 309.4,196.5 310.8,198.9 C312.2,201.3 313.7,205.4 315.1,209.0 C316.6,212.6 318.1,216.8 319.5,220.7 C320.9,224.6 322.3,228.1 323.8,232.3 C325.3,236.5 327.6,243.7 328.4,246.0" stroke-width="1.00"/>
<path d="M279.0,152.9 C280.3,154.2 284.4,158.1 286.6,160.9 C288.8,163.7 290.5,166.5 292.4,169.6 C294.3,172.7 296.5,176.5 298.2,179.7 C299.9,182.8 301.0,186.2 302.6,188.5 C304.2,190.8 306.3,191.8 308.0,193.5 C309.7,195.2 311.3,196.0 312.8,198.5 C314.3,201.0 315.7,204.9 317.2,208.5 C318.7,212.1 320.2,216.3 321.6,220.2 C323.1,224.1 324.4,227.5 325.9,231.8 C327.4,236.1 329.8,243.6 330.6,246.0" stroke-width="1.00"/>
<path d="M276.6,162.0 C276.8,163.0 277.4,165.8 277.8,168.0 C278.2,170.2 278.3,172.7 278.8,175.2 C279.3,177.7 280.3,180.3 281.0,183.0 C281.7,185.7 282.1,187.3 283.2,191.6 C284.3,195.9 286.3,203.2 287.5,209.0 C288.7,214.8 289.4,220.3 290.4,226.5 C291.4,232.7 293.0,242.8 293.5,246.0" stroke-width="1.50"/>
<path d="M276.6,166.0 C276.9,167.3 277.8,171.3 278.5,174.0 C279.2,176.7 280.0,178.8 281.0,182.0 C282.0,185.2 283.3,190.0 284.6,193.1 C285.9,196.2 287.3,198.4 289.0,200.3 C290.7,202.2 292.9,204.4 294.8,204.7 C296.7,204.9 298.9,203.1 300.6,201.8 C302.3,200.5 303.9,197.9 305.0,196.7 C306.1,195.5 306.8,194.9 307.1,194.5" stroke-width="1.00"/>
<path d="M276.6,167.5 C277.0,168.9 278.0,173.2 278.8,176.0 C279.6,178.8 280.4,180.8 281.4,184.0 C282.4,187.2 283.7,192.0 285.0,195.0 C286.3,198.0 287.6,200.1 289.2,202.0 C290.8,203.9 292.9,206.2 294.8,206.5 C296.7,206.8 299.1,204.8 300.8,203.5 C302.6,202.2 304.1,199.9 305.3,198.5 C306.5,197.1 307.6,195.6 308.0,195.0" stroke-width="1.00"/>
<path d="M336.0,192.0 C336.7,191.5 338.7,190.3 340.0,189.0 C341.3,187.7 342.1,187.4 343.6,184.1 C345.1,180.8 347.3,175.2 349.1,169.1 C350.9,163.0 352.8,153.2 354.6,147.3 C356.4,141.4 358.3,136.4 360.0,133.6 C361.7,130.8 363.2,130.2 364.8,130.2 C366.4,130.2 368.1,131.7 369.6,133.6 C371.1,135.5 372.2,138.8 373.7,141.8 C375.2,144.8 377.7,149.8 378.5,151.4" stroke-width="1.00"/>
<path d="M336.0,192.0 C336.8,191.5 339.0,190.3 340.5,189.0 C342.0,187.7 343.3,187.4 345.0,184.1 C346.7,180.8 348.7,174.8 350.5,169.1 C352.3,163.4 354.1,155.1 355.9,150.0 C357.7,144.9 359.9,140.6 361.4,138.4 C362.9,136.2 363.4,136.8 364.8,137.1 C366.2,137.4 367.9,138.6 369.6,140.5 C371.3,142.4 373.5,146.8 375.0,148.7 C376.5,150.6 377.9,151.4 378.5,152.0" stroke-width="1.00"/>
<path d="M336.0,192.0 C336.8,191.6 339.3,190.8 341.0,189.5 C342.7,188.2 344.4,186.6 346.4,184.1 C348.4,181.6 350.9,177.8 353.2,174.6 C355.5,171.4 357.7,168.0 360.0,165.0 C362.3,162.0 364.5,158.8 366.8,156.8 C369.1,154.8 371.8,153.6 373.7,152.8 C375.6,152.0 377.7,152.1 378.5,152.0" stroke-width="1.00"/>
<path d="M336.0,192.0 C337.0,191.7 340.1,191.2 342.0,190.0 C343.9,188.8 345.4,187.4 347.5,185.0 C349.6,182.6 352.2,178.6 354.5,175.5 C356.8,172.4 358.9,169.1 361.2,166.2 C363.4,163.3 365.8,160.1 368.0,158.0 C370.2,155.9 372.8,154.6 374.5,153.6 C376.2,152.6 377.8,152.4 378.5,152.2" stroke-width="1.00"/>
<path d="M342.4,246.0 C343.6,243.1 347.3,234.0 349.4,228.4 C351.5,222.8 353.5,217.7 355.1,212.4 C356.8,207.1 358.2,201.0 359.3,196.4 C360.4,191.8 360.8,189.1 361.8,185.0 C362.8,180.9 364.2,175.9 365.5,171.9 C366.8,167.9 368.2,163.6 369.6,161.0 C371.0,158.4 372.2,157.5 373.7,156.5 C375.2,155.5 377.7,155.2 378.5,155.0" stroke-width="1.50"/>
<path d="M344.3,246.0 C345.5,243.1 349.5,233.8 351.7,228.4 C353.9,223.0 355.5,218.8 357.4,213.5 C359.3,208.2 361.6,201.2 363.1,196.4 C364.6,191.7 365.4,188.6 366.5,185.0 C367.6,181.4 368.8,177.8 370.0,175.0 C371.2,172.2 372.6,170.0 374.0,168.0 C375.4,166.0 377.8,163.8 378.5,163.0" stroke-width="1.00"/>
<path d="M348.5,246.0 C349.8,243.1 353.8,234.8 356.2,228.4 C358.6,222.0 361.0,215.0 363.1,207.8 C365.2,200.6 367.2,190.5 368.8,185.0 C370.4,179.5 371.4,177.6 372.5,175.0 C373.6,172.4 374.5,170.9 375.5,169.5 C376.5,168.1 378.0,166.9 378.5,166.4" stroke-width="1.00"/>
<path d="M351.0,246.0 C352.3,243.1 356.6,234.8 359.0,228.4 C361.4,222.0 363.3,215.0 365.4,207.8 C367.5,200.6 370.0,190.3 371.5,185.0 C373.0,179.7 373.7,178.3 374.5,176.0 C375.3,173.7 375.8,172.6 376.5,171.0 C377.2,169.4 378.2,167.2 378.5,166.4" stroke-width="1.00"/>
<path d="M354.0,246.0 C355.3,243.1 359.7,234.8 362.0,228.4 C364.3,222.0 365.7,214.7 367.7,207.8 C369.7,200.9 372.6,191.8 374.0,187.0 C375.4,182.2 375.6,181.5 376.3,179.0 C377.1,176.5 378.1,173.2 378.5,172.0" stroke-width="1.00"/>
<path d="M378.1,151.8 C378.8,150.7 380.9,147.8 382.2,145.4 C383.5,143.1 384.5,139.8 386.0,137.7 C387.5,135.6 389.4,133.0 391.1,132.6 C392.8,132.2 394.7,133.3 396.2,135.2 C397.7,137.1 398.7,140.5 400.0,144.1 C401.3,147.7 402.5,152.6 403.8,156.8 C405.1,161.1 406.5,165.3 407.7,169.6 C408.9,173.8 409.9,178.1 411.0,182.3 C412.1,186.5 412.9,191.4 414.0,195.0 C415.1,198.6 416.1,201.2 417.3,203.7 C418.5,206.2 419.9,208.4 421.1,209.9 C422.4,211.4 423.3,211.9 424.8,212.4 C426.3,212.9 429.2,212.9 430.1,213.0" stroke-width="1.00"/>
<path d="M378.1,152.5 C378.8,151.8 381.1,149.8 382.5,148.0 C383.9,146.2 385.1,143.6 386.5,142.0 C387.9,140.4 389.4,138.6 391.1,138.4 C392.8,138.2 394.9,139.2 396.5,141.0 C398.1,142.8 399.2,145.7 400.5,149.0 C401.8,152.3 403.2,157.0 404.5,161.0 C405.8,165.0 407.2,169.0 408.5,173.0 C409.8,177.0 411.0,181.3 412.2,185.0 C413.4,188.7 414.3,191.9 415.5,195.0 C416.7,198.1 418.1,201.0 419.3,203.5 C420.5,206.0 421.7,208.2 422.8,209.8 C423.9,211.4 424.8,212.4 426.0,213.0 C427.2,213.6 429.4,213.4 430.1,213.5" stroke-width="1.00"/>
<path d="M378.1,152.5 C379.2,152.8 382.9,153.2 384.7,154.3 C386.4,155.5 387.3,157.3 388.6,159.4 C389.9,161.5 391.1,164.2 392.4,167.0 C393.7,169.8 395.1,173.2 396.2,176.0 C397.3,178.8 397.9,181.3 398.8,183.6 C399.7,185.9 400.7,187.7 401.5,190.0 C402.3,192.3 402.5,194.7 403.7,197.4 C404.9,200.1 407.0,203.9 408.6,206.2 C410.2,208.5 411.7,209.9 413.6,211.1 C415.5,212.3 417.5,213.2 419.8,213.6 C422.1,214.0 425.6,213.8 427.3,213.6 C429.0,213.4 428.4,212.9 430.1,212.7 C431.8,212.5 435.6,212.8 437.4,212.3 C439.2,211.9 439.7,211.4 440.9,210.0 C442.1,208.6 443.2,206.0 444.4,203.6 C445.6,201.2 447.0,197.8 447.9,195.5 C448.8,193.2 448.2,193.7 449.5,190.0 C450.8,186.3 453.4,178.7 455.4,173.4 C457.4,168.1 459.4,162.4 461.4,158.1 C463.4,153.8 465.4,149.8 467.3,147.4 C469.2,145.0 472.1,144.5 473.0,143.9" stroke-width="1.50"/>
<path d="M400.0,209.0 C401.0,208.9 403.9,208.8 406.0,208.5 C408.1,208.2 409.9,208.0 412.4,207.4 C414.9,206.8 418.2,206.0 421.1,204.9 C424.1,203.8 427.8,200.9 430.1,200.7 C432.4,200.5 433.7,202.6 435.1,203.6 C436.5,204.6 437.4,206.3 438.6,206.5 C439.8,206.7 441.0,206.1 442.1,204.8 C443.2,203.5 444.0,201.4 445.0,198.9 C446.0,196.4 446.5,194.1 447.9,190.0 C449.2,185.9 451.2,179.9 453.1,174.6 C455.0,169.3 457.0,163.4 459.0,158.1 C461.0,152.8 463.1,146.1 464.9,142.7 C466.7,139.2 468.2,138.4 469.6,137.4 C471.0,136.4 472.4,136.9 473.0,136.8" stroke-width="1.00"/>
<path d="M448.8,190.0 L447.9,192.0" stroke-width="1.00"/>
<path d="M430.1,213.0 C430.8,213.8 432.6,216.2 434.0,217.5 C435.4,218.8 437.1,219.8 438.6,221.0 C440.1,222.2 441.6,223.3 443.2,224.5 C444.8,225.7 446.5,227.1 447.9,228.0 C449.3,228.9 450.2,229.7 451.4,229.7 C452.6,229.7 453.5,229.6 454.9,228.0 C456.2,226.4 458.0,223.2 459.5,219.9 C461.0,216.6 462.6,211.9 464.1,208.2 C465.7,204.5 467.3,200.0 468.8,197.8 C470.3,195.6 472.3,195.4 473.0,194.9" stroke-width="1.00"/>
<path d="M430.1,213.5 C430.8,214.6 432.6,218.1 434.0,219.9 C435.4,221.7 437.1,223.2 438.6,224.5 C440.1,225.8 441.6,226.7 443.2,228.0 C444.8,229.3 446.5,231.4 447.9,232.6 C449.3,233.8 450.0,235.0 451.4,235.0 C452.8,235.0 454.4,234.5 456.0,232.6 C457.6,230.7 459.1,226.8 460.7,223.3 C462.2,219.8 463.8,215.2 465.3,211.7 C466.9,208.2 468.7,204.4 470.0,202.4 C471.3,200.4 472.5,200.0 473.0,199.5" stroke-width="1.00"/>
<path d="M398.0,202.0 C398.7,203.1 400.6,206.5 402.4,208.7 C404.2,210.8 406.5,213.2 408.6,214.9 C410.7,216.6 412.8,217.8 414.9,218.6 C417.0,219.4 419.0,219.5 421.1,219.9 C423.2,220.3 425.8,220.9 427.3,221.1 C428.8,221.3 429.6,221.0 430.1,221.0" stroke-width="1.00"/>
<path d="M378.1,163.0 C379.1,164.0 381.7,165.0 384.0,168.9 C386.3,172.8 389.7,181.6 391.7,186.3 C393.7,191.0 394.5,192.8 396.0,197.0 C397.5,201.2 398.9,206.2 400.8,211.6 C402.7,217.0 405.6,223.7 407.4,229.2 C409.2,234.7 411.0,241.8 411.8,244.6 C412.6,247.4 412.2,245.8 412.3,246.0" stroke-width="1.00"/>
<path d="M378.1,172.0 C378.8,173.1 380.5,174.9 382.1,178.6 C383.7,182.3 385.9,188.2 387.8,194.0 C389.7,199.8 391.6,207.2 393.6,213.3 C395.6,219.4 398.3,225.2 400.0,230.6 C401.7,236.0 403.3,243.4 404.0,246.0" stroke-width="1.00"/>
<path d="M378.1,172.0 C379.3,174.6 383.1,181.9 385.4,187.4 C387.7,192.9 389.8,199.1 392.0,205.0 C394.2,210.9 396.4,217.1 398.6,222.6 C400.8,228.1 403.6,234.1 405.2,238.0 C406.8,241.9 407.9,244.7 408.5,246.0" stroke-width="1.00"/>
<path d="M409.9,246.0 C410.8,244.2 413.3,238.5 415.0,235.0 C416.7,231.5 417.9,228.6 420.0,225.0 C422.1,221.4 426.1,215.2 427.3,213.2" stroke-width="1.00"/>
<path d="M413.0,246.0 C413.8,244.3 416.3,239.3 418.0,236.0 C419.7,232.7 421.3,229.3 423.0,226.0 C424.7,222.7 427.2,217.7 428.0,216.0" stroke-width="1.00"/>
<path d="M417.0,246.0 C417.5,245.2 418.7,243.0 420.0,241.0 C421.3,239.0 423.4,234.5 424.6,233.8 C425.9,233.1 426.6,235.8 427.5,237.0 C428.4,238.2 429.2,241.2 430.1,241.0 C431.0,240.8 432.0,237.8 433.0,236.0 C434.0,234.2 435.3,230.3 436.3,230.3 C437.3,230.3 438.1,233.4 439.0,236.0 C439.9,238.6 441.1,244.3 441.5,246.0" stroke-width="1.00"/>
<path d="M422.0,246.0 C422.5,244.8 424.1,239.8 425.0,239.0 C425.9,238.2 426.6,240.2 427.5,241.0 C428.4,241.8 429.3,244.2 430.1,244.0 C430.9,243.8 431.5,241.3 432.5,240.0 C433.5,238.7 435.0,235.8 436.0,236.0 C437.0,236.2 437.8,239.3 438.5,241.0 C439.2,242.7 439.8,245.2 440.0,246.0" stroke-width="1.00"/>
</g>
<line x1="276.5" y1="121.4" x2="472.5" y2="121.4" stroke="#6a6a6a" stroke-width="1.8" stroke-dasharray="6.4 2.4 1.2 2.0" stroke-dashoffset="0.5"/>
<rect x="276.5" y="11.5" width="196.0" height="233.0" fill="none" stroke="#3a3a3a" stroke-width="1.35"/>
<text x="276.50" y="264.1" font-size="14.5" text-anchor="middle">Γ</text>
<text x="306.38" y="264.1" font-size="14.5" text-anchor="middle" font-style="italic">X</text>
<text x="336.25" y="264.1" font-size="14.5" text-anchor="middle" font-style="italic">M</text>
<text x="378.50" y="264.1" font-size="14.5" text-anchor="middle">Γ</text>
<text x="430.25" y="264.1" font-size="14.5" text-anchor="middle" font-style="italic">R</text>
<text x="472.50" y="264.1" font-size="14.5" text-anchor="middle" font-style="italic">X</text>
<text x="339.3" y="50.5" font-size="14">RuSi</text>
<text x="433.0" y="119.5" font-size="15">ε<tspan font-style="italic" font-size="12" dy="4">F</tspan></text>
<defs><clipPath id="c2"><rect x="167.5" y="291.5" width="196.0" height="233.0"/></clipPath></defs>
<line x1="197.38" y1="291.5" x2="197.38" y2="524.5" stroke="#a8a8a8" stroke-width="1.3"/>
<line x1="227.25" y1="291.5" x2="227.25" y2="524.5" stroke="#a8a8a8" stroke-width="1.3"/>
<line x1="269.50" y1="291.5" x2="269.50" y2="524.5" stroke="#a8a8a8" stroke-width="1.3"/>
<line x1="321.25" y1="291.5" x2="321.25" y2="524.5" stroke="#a8a8a8" stroke-width="1.3"/>
<text x="159.5" y="297.10" font-size="14.5" text-anchor="end">0.5</text>
<line x1="167.5" y1="330.33" x2="171.0" y2="330.33" stroke="#999" stroke-width="1"/>
<line x1="360.0" y1="330.33" x2="363.5" y2="330.33" stroke="#999" stroke-width="1"/>
<text x="159.5" y="335.93" font-size="14.5" text-anchor="end">0.0</text>
<line x1="167.5" y1="369.17" x2="171.0" y2="369.17" stroke="#999" stroke-width="1"/>
<line x1="360.0" y1="369.17" x2="363.5" y2="369.17" stroke="#999" stroke-width="1"/>
<text x="159.5" y="374.77" font-size="14.5" text-anchor="end">-0.5</text>
<line x1="167.5" y1="408.00" x2="171.0" y2="408.00" stroke="#999" stroke-width="1"/>
<line x1="360.0" y1="408.00" x2="363.5" y2="408.00" stroke="#999" stroke-width="1"/>
<text x="159.5" y="413.60" font-size="14.5" text-anchor="end">-1.0</text>
<line x1="167.5" y1="446.83" x2="171.0" y2="446.83" stroke="#999" stroke-width="1"/>
<line x1="360.0" y1="446.83" x2="363.5" y2="446.83" stroke="#999" stroke-width="1"/>
<text x="159.5" y="452.43" font-size="14.5" text-anchor="end">-1.5</text>
<line x1="167.5" y1="485.67" x2="171.0" y2="485.67" stroke="#999" stroke-width="1"/>
<line x1="360.0" y1="485.67" x2="363.5" y2="485.67" stroke="#999" stroke-width="1"/>
<text x="159.5" y="491.27" font-size="14.5" text-anchor="end">-2.0</text>
<text x="159.5" y="530.10" font-size="14.5" text-anchor="end">-2.5</text>
<g clip-path="url(#c2)" fill="none" stroke="#111" stroke-width="1.15" stroke-linejoin="round" stroke-linecap="round">
<path d="M167.6,330.2 C168.0,328.5 169.0,323.9 169.8,320.0 C170.7,316.1 171.8,310.5 172.7,306.9 C173.5,303.3 174.3,300.8 174.9,298.2 C175.5,295.6 176.1,293.1 176.4,291.6 C176.7,290.1 176.8,289.4 176.9,289.0" stroke-width="1.50"/>
<path d="M167.8,333.1 C168.4,333.8 170.0,335.8 171.3,337.5 C172.6,339.2 174.2,341.1 175.6,343.3 C177.0,345.5 178.5,348.1 180.0,350.6 C181.5,353.1 183.0,355.6 184.4,358.5 C185.8,361.4 187.5,365.2 188.7,368.0 C189.9,370.8 190.5,372.6 191.6,375.3 C192.7,378.0 194.1,382.3 195.2,384.0 C196.3,385.7 197.2,385.1 198.1,385.5 C198.9,385.9 199.3,385.6 200.3,386.2 C201.3,386.8 202.7,389.0 203.9,389.1 C205.1,389.2 206.3,389.1 207.6,387.0 C208.9,384.9 210.4,380.7 211.9,376.8 C213.4,372.9 215.0,367.5 216.3,363.7 C217.6,359.9 218.4,357.9 219.6,354.0 C220.8,350.1 222.4,343.4 223.7,340.4 C225.0,337.4 226.9,336.7 227.6,336.0" stroke-width="1.50"/>
<path d="M168.0,334.0 C168.1,334.6 168.0,335.5 168.8,337.5 C169.6,339.5 171.7,343.8 172.7,346.2 C173.7,348.6 174.2,350.4 174.9,352.0 C175.6,353.6 176.2,353.6 177.1,355.5 C177.9,357.4 178.6,360.4 180.0,363.7 C181.4,367.0 184.1,371.4 185.8,375.3 C187.5,379.2 188.7,383.6 190.1,387.0 C191.5,390.4 193.3,394.1 194.5,395.7 C195.7,397.3 196.4,396.4 197.4,396.4 C198.4,396.4 199.2,395.5 200.3,395.7 C201.4,395.9 202.7,397.6 203.9,397.4 C205.1,397.1 206.3,396.4 207.6,394.2 C208.9,392.0 210.4,388.1 211.9,384.0 C213.4,379.9 215.0,374.0 216.3,369.5 C217.6,365.0 218.7,361.2 219.9,357.0 C221.1,352.8 222.2,347.5 223.5,344.0 C224.8,340.5 226.9,337.5 227.6,336.2" stroke-width="1.00"/>
<path d="M168.3,335.0 C168.6,335.7 169.1,337.0 170.0,339.0 C170.9,341.0 172.7,344.3 174.0,347.0 C175.3,349.7 176.1,351.5 177.8,355.0 C179.5,358.5 182.2,363.8 184.3,368.1 C186.4,372.5 188.4,377.6 190.1,381.1 C191.8,384.6 193.2,387.0 194.5,389.1 C195.8,391.2 197.0,392.9 198.1,393.5 C199.2,394.1 200.0,392.8 201.0,393.0 C202.0,393.2 202.8,395.1 204.0,394.8 C205.2,394.6 206.5,393.8 208.0,391.5 C209.5,389.2 211.3,385.1 212.8,381.0 C214.3,376.9 215.7,371.3 217.0,367.0 C218.3,362.7 219.3,359.0 220.5,355.0 C221.7,351.0 223.0,346.1 224.2,343.0 C225.4,339.9 227.0,337.5 227.6,336.4" stroke-width="1.00"/>
<path d="M225.5,289.0 C225.7,289.4 226.1,290.9 226.5,291.5 C226.9,292.1 227.3,292.6 227.7,292.6 C228.1,292.6 228.6,292.1 229.0,291.5 C229.4,290.9 229.8,289.4 230.0,289.0" stroke-width="1.50"/>
<path d="M257.0,289.0 C257.1,289.4 256.6,288.7 257.4,291.4 C258.2,294.1 260.5,300.7 261.9,305.1 C263.3,309.5 264.6,313.6 265.9,317.7 C267.1,321.8 268.8,327.6 269.4,329.6" stroke-width="1.00"/>
<path d="M258.7,289.0 C258.8,289.4 258.3,288.7 259.1,291.4 C259.9,294.1 262.0,300.7 263.3,305.1 C264.6,309.5 265.9,313.6 266.9,317.7 C267.9,321.8 269.0,327.6 269.4,329.6" stroke-width="1.00"/>
<path d="M269.6,329.7 C270.3,326.5 272.7,315.3 274.0,310.4 C275.3,305.4 276.3,303.1 277.5,300.0 C278.7,296.9 280.6,293.5 281.4,291.7 C282.2,289.9 282.3,289.4 282.5,289.0" stroke-width="1.00"/>
<path d="M269.6,329.7 C270.5,326.5 273.6,315.3 275.2,310.4 C276.8,305.4 278.1,303.1 279.5,300.0 C280.9,296.9 283.0,293.5 283.9,291.7 C284.8,289.9 284.8,289.4 285.0,289.0" stroke-width="1.00"/>
<path d="M227.4,336.7 C228.1,337.5 230.2,339.9 231.5,341.7 C232.8,343.4 233.9,345.4 235.1,347.2 C236.3,349.0 237.6,351.0 238.8,352.7 C240.0,354.4 241.3,356.1 242.4,357.2 C243.5,358.2 244.3,358.9 245.2,359.0 C246.1,359.1 247.0,358.9 247.9,358.1 C248.8,357.4 249.8,356.2 250.7,354.5 C251.6,352.8 252.5,350.5 253.4,348.1 C254.3,345.7 255.3,342.0 256.1,339.9 C256.9,337.8 257.2,336.4 258.0,335.3 C258.8,334.2 259.6,333.5 260.7,333.0 C261.8,332.5 263.0,332.3 264.4,332.1 C265.8,331.9 268.5,331.9 269.3,331.8" stroke-width="1.00"/>
<path d="M227.4,336.7 C228.1,337.6 230.2,340.2 231.5,342.0 C232.8,343.8 233.9,345.7 235.1,347.6 C236.3,349.5 237.6,351.5 238.8,353.3 C240.0,355.1 241.2,357.1 242.2,358.2 C243.2,359.3 244.0,360.0 245.0,360.2 C246.0,360.4 247.0,360.2 248.0,359.5 C249.0,358.8 250.0,357.4 251.0,355.7 C252.0,353.9 252.9,351.5 253.8,349.0 C254.7,346.5 255.7,342.7 256.5,340.5 C257.3,338.3 257.6,336.9 258.4,335.8 C259.1,334.7 260.0,334.1 261.0,333.6 C262.0,333.1 263.0,332.8 264.4,332.6 C265.8,332.4 268.5,332.3 269.3,332.2" stroke-width="1.00"/>
<path d="M227.8,336.6 C228.3,338.1 229.7,341.5 230.7,345.4 C231.7,349.3 232.4,354.8 233.6,359.9 C234.8,365.0 236.8,371.7 238.0,375.9 C239.2,380.1 239.6,380.4 240.5,385.0 C241.4,389.6 242.7,399.4 243.4,403.3 C244.1,407.2 244.4,407.4 244.6,408.2" stroke-width="1.50"/>
<path d="M244.6,408.2 C244.8,407.6 245.3,407.1 245.8,404.9 C246.3,402.7 246.9,398.3 247.5,395.0 C248.1,391.7 248.6,388.5 249.2,385.0 C249.8,381.5 250.6,377.5 251.3,374.0 C252.0,370.5 252.4,367.6 253.4,364.0 C254.4,360.4 256.1,356.2 257.5,352.6 C258.9,349.0 260.7,345.1 262.0,342.5 C263.3,339.9 264.3,338.5 265.5,337.0 C266.7,335.5 268.7,334.2 269.3,333.7" stroke-width="1.00"/>
<path d="M244.9,409.2 C245.2,408.6 245.8,407.8 246.4,405.5 C247.0,403.2 247.8,398.9 248.5,395.5 C249.2,392.1 249.7,388.6 250.4,385.0 C251.2,381.4 252.1,377.5 253.0,374.0 C253.9,370.5 255.0,367.4 256.1,364.0 C257.2,360.6 258.5,356.9 259.8,353.6 C261.1,350.3 262.8,346.5 264.0,344.0 C265.2,341.5 266.3,340.1 267.2,338.5 C268.1,336.9 269.1,335.2 269.5,334.5" stroke-width="1.00"/>
<path d="M299.2,289.0 C299.2,289.4 298.7,288.8 299.5,291.7 C300.3,294.6 302.2,301.5 303.8,306.7 C305.4,311.9 307.4,318.1 308.8,322.9 C310.2,327.7 311.5,331.1 312.5,335.3 C313.5,339.5 314.1,344.1 315.0,348.0 C315.9,351.9 316.9,355.2 318.0,359.0 C319.1,362.8 320.8,368.9 321.4,370.9" stroke-width="1.00"/>
<path d="M306.7,289.0 C306.7,289.4 306.3,288.8 306.9,291.7 C307.5,294.6 309.2,301.5 310.1,306.7 C311.0,311.9 311.8,318.1 312.5,322.9 C313.2,327.7 313.8,331.1 314.4,335.3 C315.0,339.5 315.6,343.9 316.3,348.0 C317.0,352.1 317.9,356.2 318.7,360.0 C319.5,363.8 320.9,369.1 321.4,370.9" stroke-width="1.50"/>
<path d="M338.3,289.0 C338.2,289.4 338.6,288.8 337.9,291.6 C337.2,294.4 335.4,300.2 334.1,306.0 C332.8,311.8 331.1,319.5 329.9,326.5 C328.7,333.5 327.8,342.4 326.8,348.0 C325.8,353.6 324.9,356.2 324.0,360.0 C323.1,363.8 321.8,369.1 321.4,370.9" stroke-width="1.50"/>
<path d="M321.4,370.9 C321.8,371.8 322.8,374.5 323.5,376.0 C324.2,377.5 324.4,378.4 325.6,379.9 C326.8,381.3 328.7,383.6 330.5,384.7 C332.3,385.8 334.5,385.9 336.5,386.5 C338.5,387.1 340.5,387.3 342.5,388.3 C344.5,389.3 346.7,391.4 348.5,392.5 C350.3,393.6 351.7,395.3 353.3,395.0 C354.9,394.7 356.4,392.3 358.1,390.7 C359.9,389.1 362.9,386.2 363.8,385.3" stroke-width="1.00"/>
<path d="M321.4,370.9 C321.8,372.1 322.8,376.1 323.5,378.0 C324.2,379.9 324.4,380.7 325.6,382.3 C326.8,383.9 328.7,386.4 330.5,387.7 C332.3,389.0 334.5,389.4 336.5,390.1 C338.5,390.8 340.5,390.8 342.5,391.9 C344.5,393.0 346.5,395.2 348.5,396.7 C350.5,398.2 352.7,400.8 354.5,401.0 C356.3,401.2 357.8,399.0 359.3,398.0 C360.9,397.0 363.1,395.5 363.8,395.0" stroke-width="1.00"/>
<path d="M269.6,332.8 C270.3,332.7 272.5,332.1 274.0,332.0 C275.5,331.9 277.1,332.1 278.4,332.4 C279.7,332.7 280.8,333.2 282.0,334.0 C283.2,334.8 284.4,335.9 285.6,337.2 C286.8,338.5 288.0,340.2 289.2,342.0 C290.4,343.8 291.6,346.0 292.8,348.0 C294.0,350.0 295.3,352.0 296.5,354.0 C297.7,356.0 298.8,358.0 300.0,360.0 C301.2,362.0 302.4,364.0 303.6,366.0 C304.8,368.0 306.0,370.1 307.2,372.0 C308.4,373.9 309.6,376.1 310.8,377.5 C312.0,378.9 313.2,380.3 314.4,380.4 C315.6,380.5 316.8,379.6 318.0,378.0 C319.2,376.4 320.8,372.1 321.4,370.9" stroke-width="1.00"/>
<path d="M269.6,333.5 C270.3,333.6 272.5,333.7 274.0,333.8 C275.5,333.9 277.1,333.8 278.4,334.2 C279.7,334.6 280.6,335.2 281.8,336.0 C283.0,336.8 284.1,337.9 285.3,339.2 C286.5,340.5 287.6,342.2 288.8,344.0 C290.0,345.8 291.1,348.0 292.3,350.0 C293.5,352.0 294.8,354.0 296.0,356.0 C297.2,358.0 298.3,360.0 299.5,362.0 C300.7,364.0 301.9,366.0 303.1,368.0 C304.3,370.0 305.5,372.1 306.7,374.0 C307.9,375.9 309.2,378.0 310.5,379.4 C311.8,380.8 313.1,382.2 314.4,382.3 C315.7,382.4 317.0,381.9 318.2,380.0 C319.4,378.1 320.9,372.4 321.4,370.9" stroke-width="1.00"/>
<path d="M269.7,336.9 C270.2,337.8 271.7,341.0 272.9,342.6 C274.1,344.2 275.4,345.4 276.7,346.5 C278.0,347.6 279.3,347.5 280.6,349.0 C281.9,350.5 283.2,352.6 284.4,355.4 C285.6,358.2 286.7,362.0 287.6,365.6 C288.6,369.2 289.5,372.9 290.1,377.0 C290.7,381.1 290.8,385.8 291.4,390.0 C292.0,394.2 292.9,398.6 293.5,402.0 C294.1,405.4 294.2,409.4 295.0,410.2 C295.8,410.9 296.7,408.3 298.0,406.5 C299.3,404.7 301.7,401.2 303.0,399.5 C304.3,397.8 304.4,397.9 306.0,396.1 C307.6,394.3 310.5,391.0 312.4,388.5 C314.3,386.0 316.0,383.8 317.5,380.9 C319.0,378.0 320.8,372.6 321.4,370.9" stroke-width="1.00"/>
<path d="M270.0,338.0 C270.6,339.0 272.3,342.2 273.5,343.8 C274.7,345.4 276.0,346.7 277.3,347.8 C278.6,348.9 280.1,349.0 281.4,350.5 C282.7,352.0 284.0,354.2 285.2,357.0 C286.4,359.8 287.4,363.4 288.4,367.0 C289.3,370.6 290.2,374.5 290.9,378.5 C291.6,382.5 291.8,386.9 292.4,391.0 C293.0,395.1 293.8,399.8 294.3,403.0 C294.8,406.2 294.6,409.8 295.4,410.5 C296.2,411.2 297.6,409.2 299.0,407.5 C300.4,405.8 302.7,402.2 304.0,400.5 C305.3,398.8 305.5,399.1 307.0,397.3 C308.5,395.5 311.3,392.4 313.2,389.8 C315.1,387.2 316.8,385.1 318.2,382.0 C319.6,378.9 320.9,372.8 321.4,370.9" stroke-width="1.00"/>
<path d="M168.0,436.9 C168.5,434.6 170.0,426.2 171.0,422.9 C172.0,419.6 172.9,418.2 174.0,417.0 C175.1,415.8 176.3,415.5 177.5,415.5 C178.7,415.5 179.8,416.2 181.0,417.0 C182.2,417.8 183.6,420.7 184.9,420.5 C186.2,420.3 187.6,417.3 188.9,416.0 C190.2,414.7 191.7,412.7 192.9,412.5 C194.1,412.3 195.1,414.2 195.9,415.0 C196.7,415.8 197.4,417.1 197.7,417.5" stroke-width="1.00"/>
<path d="M168.2,437.5 C168.7,435.4 170.0,428.0 171.0,424.9 C172.0,421.8 172.9,420.1 174.0,418.8 C175.1,417.5 176.3,417.2 177.5,417.2 C178.7,417.2 179.8,418.1 181.0,418.8 C182.2,419.5 184.3,421.1 185.0,421.5" stroke-width="1.00"/>
<path d="M168.0,441.9 C169.3,440.6 173.5,436.2 176.0,433.9 C178.5,431.6 180.9,429.2 182.9,427.9 C184.9,426.6 186.4,426.9 187.9,425.9 C189.4,424.9 190.7,422.8 191.9,421.9 C193.1,421.0 193.9,421.1 194.9,420.5 C195.9,419.9 196.7,419.2 197.7,418.5 C198.7,417.8 199.7,416.8 200.9,416.0 C202.1,415.2 203.7,413.5 204.8,413.5 C206.0,413.5 206.8,414.4 207.8,416.0 C208.8,417.6 209.7,419.9 210.8,423.0 C211.9,426.1 213.2,430.9 214.6,434.7 C215.9,438.5 217.4,442.0 218.9,445.6 C220.4,449.2 221.8,453.4 223.3,456.5 C224.8,459.6 227.0,462.8 227.7,464.1" stroke-width="1.00"/>
<path d="M169.0,443.9 C170.2,442.9 173.7,439.9 176.0,437.9 C178.3,435.9 180.8,433.7 182.9,431.9 C185.1,430.1 187.2,428.6 188.9,426.9 C190.6,425.2 191.7,423.0 192.9,421.9 C194.1,420.8 195.0,420.6 195.9,420.5 C196.8,420.4 197.1,421.7 198.2,421.6 C199.3,421.5 201.3,419.9 202.6,419.9 C203.9,419.9 204.5,419.7 205.8,421.6 C207.1,423.5 208.7,427.9 210.2,431.4 C211.7,434.8 213.1,438.9 214.6,442.3 C216.1,445.8 217.4,449.2 218.9,452.1 C220.4,455.0 221.8,457.8 223.3,459.8 C224.8,461.8 227.0,463.4 227.7,464.1" stroke-width="1.00"/>
<path d="M197.7,417.5 C198.0,417.9 198.9,419.4 199.5,420.0 C200.1,420.6 200.8,420.8 201.0,421.0" stroke-width="1.00"/>
<path d="M169.8,444.1 C170.9,445.1 174.3,447.8 176.4,449.9 C178.5,452.0 180.4,454.4 182.3,456.6 C184.2,458.8 186.3,461.3 188.1,463.2 C189.9,465.1 191.5,466.7 193.0,468.2 C194.5,469.7 196.2,471.2 197.2,472.3 C198.2,473.4 197.9,473.4 198.9,474.5 C199.9,475.6 201.8,477.0 203.2,478.9 C204.6,480.8 205.9,483.4 207.6,486.1 C209.3,488.8 211.5,492.7 213.4,494.9 C215.3,497.1 217.3,498.4 219.2,499.2 C221.1,500.0 223.6,499.9 225.0,499.9 C226.4,499.9 226.3,498.9 227.5,499.2 C228.7,499.4 231.5,501.0 232.3,501.4" stroke-width="1.00"/>
<path d="M170.8,445.0 C171.9,446.0 175.5,448.9 177.6,451.0 C179.7,453.1 181.6,455.4 183.6,457.6 C185.6,459.8 187.6,462.3 189.4,464.2 C191.2,466.1 192.8,467.7 194.3,469.2 C195.8,470.7 197.2,471.9 198.3,473.0 C199.4,474.1 199.5,474.4 200.6,475.6 C201.7,476.8 203.4,478.1 204.8,480.0 C206.2,481.9 207.7,484.7 209.3,487.3 C210.9,489.9 212.8,493.5 214.6,495.6 C216.3,497.7 218.1,499.1 219.8,500.0 C221.5,500.9 223.7,500.7 225.0,500.8 C226.3,500.9 226.3,500.3 227.5,500.5 C228.7,500.7 231.2,501.8 232.0,502.0" stroke-width="1.00"/>
<path d="M167.7,446.6 C167.9,447.3 168.4,448.5 169.0,450.7 C169.6,452.9 170.2,456.5 171.3,460.0 C172.4,463.5 174.4,467.2 175.6,471.6 C176.8,476.0 177.5,481.2 178.5,486.1 C179.5,491.0 180.4,496.3 181.4,500.7 C182.4,505.1 183.3,508.9 184.3,512.3 C185.3,515.7 186.5,518.7 187.2,521.0 C187.9,523.3 188.4,525.2 188.7,526.0" stroke-width="1.50"/>
<path d="M167.8,448.0 C168.2,449.2 168.9,452.9 170.0,455.0 C171.1,457.1 172.8,458.2 174.2,460.5 C175.6,462.8 177.1,466.1 178.5,468.7 C179.9,471.3 181.2,473.9 182.9,476.0 C184.6,478.1 186.8,480.9 188.7,481.1 C190.6,481.3 193.0,478.6 194.5,477.4 C196.0,476.2 197.2,474.4 197.7,473.8" stroke-width="1.00"/>
<path d="M168.0,449.5 C168.4,450.8 169.4,454.8 170.5,457.0 C171.6,459.2 173.1,460.2 174.5,462.5 C175.9,464.8 177.4,467.9 178.8,470.5 C180.2,473.1 181.5,475.9 183.2,478.0 C184.8,480.1 186.8,482.8 188.7,483.0 C190.6,483.2 193.2,480.5 194.8,479.2 C196.4,477.9 197.5,475.7 198.0,475.0" stroke-width="1.00"/>
<path d="M184.0,526.0 C184.2,525.4 184.9,523.3 185.5,522.5 C186.1,521.7 186.8,520.9 187.5,521.0 C188.2,521.1 189.0,522.2 189.5,523.0 C190.0,523.8 190.3,525.5 190.5,526.0" stroke-width="1.00"/>
<path d="M228.2,464.0 C228.9,462.2 231.1,457.0 232.6,453.0 C234.1,449.0 235.4,444.6 236.9,439.9 C238.4,435.2 240.0,428.9 241.3,424.7 C242.6,420.5 243.5,415.7 244.6,414.8 C245.7,413.9 246.7,417.9 247.8,419.2 C248.9,420.5 249.8,422.5 251.1,422.5 C252.4,422.5 254.2,420.1 255.5,419.2 C256.8,418.3 257.7,417.0 258.8,417.0 C259.9,417.0 260.9,417.8 262.0,419.2 C263.1,420.6 264.0,422.8 265.3,425.7 C266.6,428.6 269.0,434.9 269.7,436.7" stroke-width="1.00"/>
<path d="M229.5,464.0 C230.2,462.2 232.4,457.0 233.8,453.0 C235.2,449.0 236.6,444.5 238.0,440.0 C239.4,435.5 241.1,429.8 242.2,426.0 C243.3,422.2 244.1,418.3 244.8,417.5 C245.6,416.7 245.6,420.3 246.7,421.4 C247.8,422.4 249.6,423.9 251.1,423.8 C252.6,423.7 254.2,421.5 255.5,420.6 C256.8,419.7 257.5,418.1 258.8,418.6 C260.1,419.1 261.7,421.3 263.1,423.6 C264.6,425.9 266.4,430.1 267.5,432.3 C268.6,434.5 269.3,436.0 269.7,436.7" stroke-width="1.00"/>
<path d="M227.7,464.1 C228.4,463.6 230.5,462.7 232.0,461.0 C233.5,459.3 234.6,456.5 236.9,454.1 C239.2,451.7 242.8,448.5 245.7,446.5 C248.6,444.5 251.7,443.1 254.4,442.1 C257.1,441.1 259.4,440.7 262.0,440.5 C264.6,440.3 268.4,440.9 269.7,441.0" stroke-width="1.00"/>
<path d="M227.7,464.1 C228.5,463.8 230.1,464.2 232.6,462.5 C235.1,460.8 239.3,456.4 242.4,454.1 C245.5,451.8 248.4,450.1 251.1,448.7 C253.8,447.2 256.4,446.2 258.8,445.4 C261.2,444.6 263.5,444.1 265.3,443.8 C267.1,443.5 269.0,443.8 269.7,443.8" stroke-width="1.00"/>
<path d="M227.7,464.1 C228.4,463.2 230.6,461.1 232.0,458.7 C233.4,456.3 234.9,453.5 236.4,449.9 C237.9,446.2 239.5,440.8 240.8,436.8 C242.1,432.8 243.5,427.7 244.0,425.9" stroke-width="1.00"/>
<path d="M269.7,437.4 C270.3,435.7 272.0,430.1 273.2,427.4 C274.4,424.7 275.6,422.8 276.9,421.2 C278.1,419.6 279.2,418.4 280.7,418.1 C282.2,417.8 284.2,419.3 285.7,419.3 C287.1,419.3 288.2,418.7 289.4,418.1 C290.6,417.5 292.1,415.5 293.1,415.6 C294.1,415.7 294.8,416.3 295.6,418.7 C296.4,421.1 297.1,426.0 298.1,429.9 C299.1,433.8 300.6,438.1 301.8,442.3 C303.1,446.5 304.4,451.0 305.6,454.8 C306.9,458.6 308.3,462.1 309.3,465.0 C310.3,467.9 310.6,469.5 311.8,472.4 C313.1,475.3 315.2,479.9 316.8,482.4 C318.4,484.9 320.6,486.6 321.4,487.4" stroke-width="1.00"/>
<path d="M269.7,437.4 C270.3,436.0 272.2,431.4 273.5,429.0 C274.8,426.6 276.0,424.5 277.2,423.0 C278.4,421.5 279.5,420.3 280.9,420.0 C282.3,419.7 284.2,421.2 285.7,421.2 C287.1,421.2 288.3,420.6 289.6,420.0 C290.9,419.4 292.4,417.3 293.4,417.5 C294.4,417.7 294.7,418.7 295.4,421.0 C296.1,423.3 296.6,427.7 297.5,431.5 C298.4,435.3 299.8,439.8 301.0,444.0 C302.2,448.2 303.6,452.7 304.8,456.5 C306.1,460.3 307.5,464.0 308.5,467.0 C309.5,470.0 309.8,471.5 311.0,474.4 C312.2,477.3 314.3,482.2 316.0,484.4 C317.7,486.6 320.5,486.9 321.4,487.4" stroke-width="1.00"/>
<path d="M269.4,447.4 C270.0,447.4 271.6,446.9 272.9,447.6 C274.2,448.3 275.9,450.0 277.3,451.8 C278.7,453.6 280.1,455.9 281.2,458.3 C282.3,460.7 282.9,462.5 284.0,466.0 C285.1,469.5 286.6,474.6 288.0,479.1 C289.4,483.6 290.9,488.9 292.3,493.2 C293.8,497.5 295.2,502.4 296.7,505.2 C298.2,508.0 299.7,509.7 301.1,510.1 C302.6,510.5 303.9,508.9 305.4,507.4 C306.8,505.9 308.4,503.3 309.8,500.9 C311.2,498.5 312.3,495.5 314.1,493.2 C315.9,490.9 319.7,488.2 320.8,487.2" stroke-width="1.50"/>
<path d="M320.8,487.2 C321.2,487.6 322.4,488.7 323.5,489.5 C324.6,490.3 325.6,490.9 327.4,492.0 C329.2,493.1 331.9,494.7 334.2,496.1 C336.5,497.5 339.3,499.6 341.1,500.2 C342.9,500.8 343.6,500.4 345.2,499.5 C346.8,498.6 348.6,497.6 350.7,494.7 C352.8,491.8 355.3,485.8 357.5,482.4 C359.7,478.9 362.8,475.4 363.8,474.0" stroke-width="1.00"/>
<path d="M320.8,487.2 C321.2,487.8 322.4,489.8 323.5,491.0 C324.6,492.2 325.6,493.2 327.4,494.7 C329.2,496.2 331.9,498.4 334.2,500.2 C336.5,502.0 339.0,504.7 341.1,505.7 C343.2,506.7 344.6,507.4 346.6,506.3 C348.7,505.2 351.3,502.1 353.4,498.8 C355.4,495.5 357.2,490.0 358.9,486.5 C360.6,483.0 363.0,479.4 363.8,478.0" stroke-width="1.00"/>
<path d="M269.4,442.0 C270.5,442.6 274.3,443.9 276.2,445.3 C278.1,446.8 279.1,448.7 280.5,450.7 C281.9,452.7 283.4,455.4 284.9,457.2 C286.3,459.0 287.8,460.6 289.2,461.6 C290.6,462.6 292.1,462.1 293.6,463.0 C295.1,463.9 296.6,465.6 298.0,467.0 C299.4,468.4 300.5,469.5 302.0,471.4 C303.5,473.3 304.9,475.1 306.8,478.3 C308.8,481.5 311.9,487.2 313.7,490.6 C315.5,494.0 316.6,496.3 317.8,498.8 C319.0,501.3 319.5,503.4 320.6,505.6 C321.7,507.8 323.6,510.3 324.5,512.0 C325.4,513.7 325.3,513.7 326.0,516.0 C326.7,518.3 328.1,524.3 328.5,526.0" stroke-width="1.00"/>
<path d="M281.5,526.0 C281.8,525.3 282.4,523.0 283.0,522.0 C283.6,521.0 284.6,520.2 285.3,520.2 C286.1,520.2 286.9,521.0 287.5,522.0 C288.1,523.0 288.8,525.3 289.0,526.0" stroke-width="1.00"/>
<path d="M269.4,447.4 C269.8,448.1 270.9,449.4 271.8,451.8 C272.8,454.2 274.1,458.5 275.1,461.6 C276.1,464.7 277.0,467.5 278.0,470.5 C279.0,473.5 279.9,476.8 281.0,479.5 C282.1,482.2 283.4,484.6 284.8,487.0 C286.2,489.4 287.7,491.3 289.1,494.0 C290.5,496.7 291.9,500.0 293.4,503.1 C294.8,506.2 296.3,509.6 297.8,512.9 C299.3,516.2 301.2,520.5 302.2,522.7 C303.1,524.9 303.3,525.5 303.5,526.0" stroke-width="1.00"/>
<path d="M269.4,447.4 C270.0,448.2 271.8,449.6 273.0,452.0 C274.2,454.4 275.5,458.5 276.6,461.6 C277.7,464.7 278.7,467.5 279.8,470.5 C280.9,473.5 281.8,476.8 283.0,479.5 C284.2,482.2 285.5,484.6 286.8,487.0 C288.1,489.4 289.6,491.3 291.0,494.0 C292.4,496.7 293.8,500.0 295.2,503.1 C296.6,506.2 298.1,509.6 299.5,512.9 C300.9,516.2 302.9,520.5 303.8,522.7 C304.7,524.9 304.8,525.5 305.0,526.0" stroke-width="1.00"/>
<path d="M269.4,447.4 C268.9,449.0 267.6,453.4 266.4,457.2 C265.2,461.0 262.7,468.1 262.0,470.3" stroke-width="1.00"/>
<path d="M269.4,447.4 C269.1,449.0 268.6,453.4 267.6,457.2 C266.6,461.0 264.1,468.1 263.4,470.3" stroke-width="1.00"/>
<path d="M269.7,442.3 C270.6,443.3 273.2,446.4 275.0,448.5 C276.8,450.6 278.6,453.4 280.3,455.0 C282.0,456.6 283.5,457.2 285.0,458.0 C286.5,458.8 288.0,459.2 289.5,459.8 C291.0,460.4 292.7,460.8 294.0,461.5 C295.3,462.2 296.3,462.8 297.5,464.0 C298.7,465.2 299.7,467.2 301.0,468.8 C302.3,470.4 303.9,472.0 305.5,473.5 C307.1,475.0 308.6,476.5 310.3,478.0 C312.0,479.5 313.8,481.0 315.5,482.5 C317.2,484.0 319.8,486.4 320.6,487.2" stroke-width="1.00"/>
<path d="M280.3,455.0 C281.2,455.7 284.1,457.3 286.0,459.0 C287.9,460.7 290.2,463.0 291.8,465.0 C293.4,467.0 293.8,469.6 295.3,471.0 C296.8,472.4 298.1,472.8 301.0,473.4 C303.9,474.0 308.8,474.3 312.6,474.5 C316.4,474.7 321.3,474.8 324.0,474.5 C326.7,474.2 327.4,473.4 329.0,472.5 C330.6,471.6 332.0,470.6 333.3,468.8 C334.6,467.1 335.8,464.8 337.0,462.0 C338.2,459.2 339.0,456.0 340.4,452.3 C341.8,448.6 343.6,444.4 345.3,439.8 C347.0,435.2 348.6,429.0 350.3,424.9 C352.0,420.8 353.6,416.2 355.3,414.9 C357.0,413.5 358.9,416.3 360.3,416.8 C361.7,417.3 363.2,417.8 363.8,418.0" stroke-width="1.00"/>
<path d="M320.6,487.2 C321.3,486.5 323.6,484.4 325.0,483.0 C326.4,481.6 327.5,481.3 329.2,478.7 C330.9,476.1 333.9,469.8 335.4,467.5 C336.8,465.2 336.6,467.5 337.9,465.0 C339.1,462.5 341.2,456.5 342.9,452.3 C344.5,448.1 346.1,444.2 347.8,439.8 C349.5,435.4 351.1,429.4 352.8,426.1 C354.5,422.8 356.0,420.5 357.8,419.9 C359.6,419.3 362.8,422.0 363.8,422.4" stroke-width="1.00"/>
<path d="M321.4,506.1 C322.3,505.3 324.8,501.3 326.7,501.1 C328.6,500.9 330.8,502.7 332.9,504.8 C335.0,506.9 337.2,510.6 339.1,513.5 C341.0,516.4 343.1,520.1 344.1,522.2 C345.1,524.3 344.9,525.4 345.0,526.0" stroke-width="1.00"/>
<path d="M321.4,506.1 C322.3,505.7 324.6,503.0 326.7,503.6 C328.8,504.2 331.8,507.3 334.1,509.8 C336.4,512.3 338.9,515.8 340.4,518.5 C341.9,521.2 342.5,524.8 342.9,526.0" stroke-width="1.00"/>
<path d="M321.4,506.1 C321.9,507.6 323.4,511.7 324.5,515.0 C325.6,518.3 327.3,524.2 327.9,526.0" stroke-width="1.50"/>
<path d="M303.0,526.0 C303.8,524.7 306.2,520.5 308.0,518.0 C309.8,515.5 311.8,513.0 314.0,511.0 C316.2,509.0 320.2,506.9 321.4,506.1" stroke-width="1.00"/>
<path d="M306.0,526.0 C306.8,524.8 309.3,521.3 311.0,519.0 C312.7,516.7 314.3,514.1 316.0,512.0 C317.7,509.9 320.5,507.1 321.4,506.1" stroke-width="1.00"/>
<path d="M309.0,526.0 C309.8,524.8 312.0,521.2 313.5,519.0 C315.0,516.8 316.7,514.6 318.0,512.5 C319.3,510.4 320.8,507.2 321.4,506.1" stroke-width="1.00"/>
<path d="M312.0,526.0 C312.7,524.8 314.8,521.2 316.0,519.0 C317.2,516.8 318.1,515.1 319.0,513.0 C319.9,510.9 321.0,507.2 321.4,506.1" stroke-width="1.00"/>
<path d="M232.1,526.0 C232.7,524.7 234.4,520.2 235.5,518.0 C236.6,515.8 237.3,515.7 238.5,512.8 C239.7,509.9 241.4,504.6 242.9,500.8 C244.4,497.0 246.0,493.3 247.3,489.9 C248.6,486.4 249.4,483.4 250.5,480.1 C251.6,476.8 252.7,473.2 253.8,470.3 C254.9,467.4 256.2,464.8 257.1,462.6 C258.0,460.4 258.1,459.3 259.2,457.2 C260.3,455.1 261.8,452.4 263.5,450.0 C265.2,447.6 268.2,444.2 269.2,443.1" stroke-width="1.50"/>
<path d="M227.5,499.5 C228.2,499.7 230.7,500.1 232.0,500.8 C233.3,501.6 234.2,503.1 235.3,504.0 C236.4,504.9 237.6,505.8 238.5,506.5 C239.4,507.2 240.2,508.4 241.0,508.5 C241.8,508.6 242.6,508.1 243.5,507.0 C244.4,505.9 245.0,504.4 246.2,501.9 C247.4,499.4 249.1,495.4 250.5,492.1 C251.9,488.8 253.5,485.7 254.9,482.2 C256.4,478.7 257.9,474.8 259.2,471.3 C260.5,467.9 261.6,464.2 262.5,461.5 C263.4,458.8 263.9,456.9 264.7,455.0 C265.4,453.1 266.2,451.3 267.0,450.0 C267.8,448.7 268.8,447.8 269.2,447.4" stroke-width="1.00"/>
<path d="M227.5,500.5 C228.2,500.9 230.5,501.9 232.0,503.0 C233.5,504.1 235.1,506.0 236.4,507.3 C237.7,508.6 238.7,509.9 239.6,510.6 C240.5,511.3 241.1,512.1 242.0,511.7 C242.9,511.3 243.9,509.6 245.0,508.0 C246.1,506.4 247.0,504.5 248.3,501.9 C249.6,499.2 251.2,495.4 252.7,492.1 C254.2,488.8 255.7,485.7 257.1,482.2 C258.6,478.7 260.1,474.8 261.4,471.3 C262.7,467.9 263.8,464.2 264.7,461.5 C265.6,458.8 266.3,456.9 266.9,455.0 C267.5,453.1 268.1,451.3 268.5,450.0 C268.9,448.7 269.1,447.8 269.2,447.4" stroke-width="1.00"/>
<path d="M227.5,499.3 C228.2,499.0 230.5,498.5 232.0,497.5 C233.5,496.5 235.0,495.1 236.4,493.1 C237.8,491.1 239.4,488.2 240.7,485.5 C242.0,482.8 242.9,479.3 244.0,476.8 C245.1,474.3 246.0,472.1 247.3,470.3 C248.6,468.5 250.2,467.5 251.6,465.9 C253.0,464.2 254.7,462.2 256.0,460.4 C257.3,458.6 258.0,456.7 259.2,455.0 C260.4,453.3 261.3,451.8 263.0,450.0 C264.7,448.2 268.2,445.0 269.2,444.0" stroke-width="1.00"/>
<path d="M227.5,500.0 C228.2,499.8 230.4,499.7 232.0,498.8 C233.6,497.9 235.3,496.7 236.8,494.8 C238.3,492.9 240.1,490.0 241.2,487.5 C242.3,485.0 242.8,482.2 243.5,480.0 C244.2,477.8 244.3,475.4 245.1,474.0 C245.8,472.6 246.9,472.2 248.0,471.8 C249.1,471.4 250.5,472.3 251.6,471.3 C252.7,470.3 253.6,467.6 254.5,466.0 C255.4,464.4 256.1,463.1 257.0,461.5 C257.9,459.9 258.8,458.2 260.0,456.5 C261.2,454.8 262.5,452.9 264.0,451.0 C265.5,449.1 268.3,446.0 269.2,445.0" stroke-width="1.00"/>
<path d="M233.0,526.0 C233.3,524.8 233.6,520.6 234.8,518.6 C236.0,516.6 238.7,515.0 240.4,514.0 C242.1,513.0 243.5,512.8 245.0,512.5 C246.5,512.2 248.0,511.5 249.5,512.2 C251.0,512.9 252.7,514.5 254.1,516.8 C255.5,519.1 257.2,524.5 257.8,526.0" stroke-width="1.00"/>
<path d="M237.0,526.0 C237.6,524.7 239.2,519.8 240.5,518.0 C241.8,516.2 243.5,516.0 245.0,515.5 C246.5,515.0 248.2,514.4 249.5,515.0 C250.8,515.6 251.6,517.2 252.5,519.0 C253.4,520.8 254.6,524.8 255.0,526.0" stroke-width="1.00"/>
</g>
<line x1="167.5" y1="334.3" x2="363.5" y2="334.3" stroke="#6a6a6a" stroke-width="1.8" stroke-dasharray="6.4 2.4 1.2 2.0" stroke-dashoffset="0.1"/>
<rect x="167.5" y="291.5" width="196.0" height="233.0" fill="none" stroke="#3a3a3a" stroke-width="1.35"/>
<text x="167.50" y="544.1" font-size="14.5" text-anchor="middle">Γ</text>
<text x="197.38" y="544.1" font-size="14.5" text-anchor="middle" font-style="italic">X</text>
<text x="227.25" y="544.1" font-size="14.5" text-anchor="middle" font-style="italic">M</text>
<text x="269.50" y="544.1" font-size="14.5" text-anchor="middle">Γ</text>
<text x="321.25" y="544.1" font-size="14.5" text-anchor="middle" font-style="italic">R</text>
<text x="363.50" y="544.1" font-size="14.5" text-anchor="middle" font-style="italic">X</text>
<text x="230.8" y="330.5" font-size="14">RhSi</text>
<text x="285.3" y="330.5" font-size="15">ε<tspan font-style="italic" font-size="12" dy="4">F</tspan></text>
<text x="0" y="0" font-size="14.5" text-anchor="middle" transform="translate(126.9,408.0) rotate(-90)">ε, eV</text>
</svg></body></html>
